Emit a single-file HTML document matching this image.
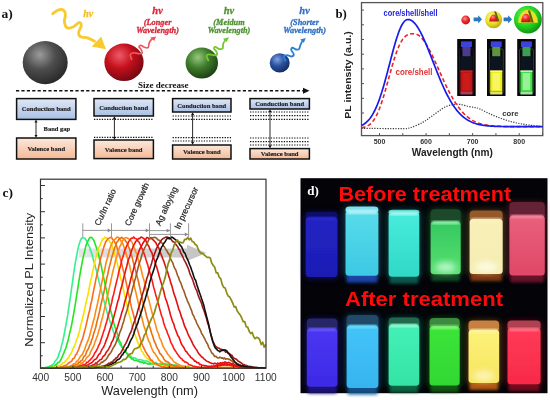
<!DOCTYPE html>
<html><head><meta charset="utf-8"><style>
html,body{margin:0;padding:0;background:#fff;}
body{width:550px;height:400px;overflow:hidden;}
svg{display:block;filter:blur(0.35px);}
</style></head><body>
<svg width="550" height="400" viewBox="0 0 550 400">
<rect width="550" height="400" fill="#fff"/>
<text x="1.5" y="17.5" style="font-family:'Liberation Serif',serif;font-weight:bold;font-size:13.5px" fill="#111">a)</text>
<radialGradient id="sg1" cx="0.38" cy="0.32" r="0.75" fx="0.38" fy="0.32"><stop offset="0" stop-color="#9c9c9c"/><stop offset="0.45" stop-color="#4e4e4e"/><stop offset="1" stop-color="#242424"/></radialGradient>
<ellipse cx="45.2" cy="62.6" rx="22.5" ry="21.6" fill="url(#sg1)"/>
<radialGradient id="sg2" cx="0.38" cy="0.32" r="0.75" fx="0.38" fy="0.32"><stop offset="0" stop-color="#ee5a68"/><stop offset="0.45" stop-color="#c4101c"/><stop offset="1" stop-color="#680810"/></radialGradient>
<ellipse cx="124" cy="62.3" rx="19.6" ry="18.82" fill="url(#sg2)"/>
<radialGradient id="sg3" cx="0.38" cy="0.32" r="0.75" fx="0.38" fy="0.32"><stop offset="0" stop-color="#96c87c"/><stop offset="0.45" stop-color="#3f7d2c"/><stop offset="1" stop-color="#173810"/></radialGradient>
<ellipse cx="201.8" cy="63" rx="16.2" ry="15.55" fill="url(#sg3)"/>
<radialGradient id="sg4" cx="0.38" cy="0.32" r="0.75" fx="0.38" fy="0.32"><stop offset="0" stop-color="#7ea4e0"/><stop offset="0.45" stop-color="#2a52a0"/><stop offset="1" stop-color="#10285a"/></radialGradient>
<ellipse cx="279.7" cy="62.9" rx="10" ry="9.6" fill="url(#sg4)"/>
<path d="M52.6,13.8 C53.62,13.13 56.8,10.33 58.7,9.8 C60.6,9.27 62.88,9.68 64,10.6 C65.12,11.52 65.33,13.48 65.4,15.3 C65.47,17.12 64.13,19.42 64.4,21.5 C64.67,23.58 65.48,26.92 67,27.8 C68.52,28.68 71.47,27.72 73.5,26.8 C75.53,25.88 77.9,22.5 79.2,22.3 C80.5,22.1 81.4,23.9 81.3,25.6 C81.2,27.3 78.73,30.63 78.6,32.5 C78.47,34.37 79,35.92 80.5,36.8 C82,37.68 85.27,37.07 87.6,37.8 C89.93,38.53 93.35,40.63 94.5,41.2" fill="none" stroke="#f7ca2e" stroke-width="2.8" stroke-linecap="round"/>
<polygon points="91.8,46.6 101.2,36.6 106,49.2" fill="#f7ca2e"/>
<text x="83.3" y="17" style="font-family:'Liberation Serif',serif;font-weight:bold;font-style:italic;font-size:10px" fill="#f4c020" stroke="#f4c020" stroke-width="0.3">hv</text>
<path d="M131.6,59.3 C131.38,58.57 129.97,55.99 130.25,54.9 C130.53,53.81 131.99,52.97 133.3,52.75 C134.61,52.53 136.63,53.52 138.1,53.6 C139.57,53.68 141.66,54 142.1,53.2 C142.54,52.4 141.27,49.82 140.75,48.8 C140.23,47.78 139,47.68 139,47.1 C139,46.52 139.73,45.23 140.75,45.3 C141.77,45.37 143.86,47.13 145.1,47.5 C146.34,47.87 147.53,48.23 148.2,47.5 C148.87,46.77 148.59,44.42 149.1,43.1 C149.61,41.78 150.57,40.42 151.25,39.6 C151.93,38.78 152.88,38.43 153.2,38.2" fill="none" stroke="#f05a5e" stroke-width="1.7" stroke-linecap="round"/>
<polygon points="150.2,37.6 156.2,36.4 154.2,40.9" fill="#f05a5e"/>
<path d="M208.3,60.4 C208.02,59.68 206.53,57.12 206.6,56.1 C206.67,55.08 207.67,54.45 208.75,54.3 C209.83,54.15 211.71,55.12 213.1,55.2 C214.49,55.28 216.58,55.41 217.1,54.75 C217.62,54.09 216.72,52.27 216.2,51.25 C215.68,50.23 214.15,49.33 214,48.6 C213.85,47.88 214.35,46.82 215.3,46.9 C216.25,46.98 218.46,48.88 219.7,49.1 C220.94,49.32 222.17,49.08 222.75,48.2 C223.33,47.32 222.82,45.04 223.2,43.8 C223.57,42.56 224.47,41.48 225,40.75 C225.53,40.02 226.17,39.62 226.4,39.4" fill="none" stroke="#74c830" stroke-width="1.8" stroke-linecap="round"/>
<polygon points="223,38.8 229.1,37.2 226.6,41.9" fill="#74c830"/>
<path d="M285.5,60.9 C285.21,60.17 283.46,57.45 283.75,56.5 C284.04,55.55 285.94,55.2 287.25,55.2 C288.56,55.2 290.51,56.65 291.6,56.5 C292.69,56.35 293.87,55.4 293.8,54.3 C293.73,53.2 291.42,50.99 291.2,49.9 C290.98,48.81 291.7,47.82 292.5,47.75 C293.3,47.68 294.92,49.27 296,49.5 C297.08,49.73 298.27,49.83 299,49.1 C299.73,48.37 299.88,46.35 300.4,45.1 C300.92,43.85 301.6,42.42 302.1,41.6 C302.6,40.78 303.18,40.43 303.4,40.2" fill="none" stroke="#2c80d4" stroke-width="1.8" stroke-linecap="round"/>
<polygon points="300.2,39.6 305.8,38.1 303.8,42.8" fill="#2c80d4"/>
<g style="font-family:'Liberation Serif',serif;font-weight:bold;font-style:italic" fill="#d8283a" stroke="#d8283a" stroke-width="0.3" text-anchor="middle"><text x="157.6" y="14" style="font-size:10.5px">hv</text><text x="157.6" y="24.6" style="font-size:8.3px">(Longer</text><text x="157.6" y="32.6" style="font-size:8.3px">Wavelength)</text></g>
<g style="font-family:'Liberation Serif',serif;font-weight:bold;font-style:italic" fill="#4f9232" stroke="#4f9232" stroke-width="0.3" text-anchor="middle"><text x="229" y="14" style="font-size:10.5px">hv</text><text x="229" y="24.6" style="font-size:8.3px">(Meidum</text><text x="229" y="32.6" style="font-size:8.3px">Wavelength)</text></g>
<g style="font-family:'Liberation Serif',serif;font-weight:bold;font-style:italic" fill="#3370c4" stroke="#3370c4" stroke-width="0.3" text-anchor="middle"><text x="304.6" y="14" style="font-size:10.5px">hv</text><text x="304.6" y="24.6" style="font-size:8.3px">(Shorter</text><text x="304.6" y="32.6" style="font-size:8.3px">Wavelength)</text></g>
<line x1="16" y1="90.8" x2="304" y2="90.8" stroke="#111" stroke-width="1.6" stroke-dasharray="3.2,2.2"/>
<polygon points="303,87.8 309.5,90.8 303,93.8" fill="#111"/>
<text x="138" y="88" style="font-family:'Liberation Serif',serif;font-weight:bold;font-size:9px" fill="#111">Size decrease</text>
<linearGradient id="cb" x1="0" y1="0" x2="0" y2="1"><stop offset="0" stop-color="#dfe8f6"/><stop offset="1" stop-color="#a9c0e4"/></linearGradient>
<linearGradient id="vb" x1="0" y1="0" x2="0" y2="1"><stop offset="0" stop-color="#fce8dc"/><stop offset="1" stop-color="#f4b996"/></linearGradient>
<rect x="16.6" y="98.6" width="59.3" height="20.8" fill="url(#cb)" stroke="#111" stroke-width="1.5"/>
<text x="46.25" y="111.3" text-anchor="middle" style="font-family:'Liberation Serif',serif;font-weight:bold;font-size:6.6px" fill="#222" stroke="#222" stroke-width="0.15">Conduction band</text>
<rect x="16.6" y="138" width="59.3" height="21" fill="url(#vb)" stroke="#111" stroke-width="1.5"/>
<text x="46.25" y="150.8" text-anchor="middle" style="font-family:'Liberation Serif',serif;font-weight:bold;font-size:6.6px" fill="#222" stroke="#222" stroke-width="0.15">Valence band</text>
<line x1="36" y1="121.6" x2="36" y2="135.8" stroke="#111" stroke-width="0.9"/>
<polygon points="34.5,122.4 36,119.6 37.5,122.4" fill="#111"/>
<polygon points="34.5,135 36,137.8 37.5,135" fill="#111"/>
<text x="43.6" y="131" style="font-family:'Liberation Serif',serif;font-weight:bold;font-size:6.5px" fill="#222" stroke="#222" stroke-width="0.15">Band gap</text>
<rect x="94" y="98.6" width="59.4" height="17.4" fill="url(#cb)" stroke="#111" stroke-width="1.5"/>
<text x="123.7" y="109.6" text-anchor="middle" style="font-family:'Liberation Serif',serif;font-weight:bold;font-size:6.6px" fill="#222" stroke="#222" stroke-width="0.15">Conduction band</text>
<line x1="94" y1="119.4" x2="153.4" y2="119.4" stroke="#111" stroke-width="1.1" stroke-dasharray="1.3,1.3"/>
<line x1="94" y1="137.4" x2="153.4" y2="137.4" stroke="#111" stroke-width="1.1" stroke-dasharray="1.3,1.3"/>
<rect x="94" y="140" width="59.4" height="18.6" fill="url(#vb)" stroke="#111" stroke-width="1.5"/>
<text x="123.7" y="151.6" text-anchor="middle" style="font-family:'Liberation Serif',serif;font-weight:bold;font-size:6.6px" fill="#222" stroke="#222" stroke-width="0.15">Valence band</text>
<line x1="114.4" y1="118.2" x2="114.4" y2="137.8" stroke="#111" stroke-width="0.9"/>
<polygon points="112.9,119 114.4,116.2 115.9,119" fill="#111"/>
<polygon points="112.9,137 114.4,139.8 115.9,137" fill="#111"/>
<rect x="172.6" y="98.6" width="58.4" height="13.4" fill="url(#cb)" stroke="#111" stroke-width="1.5"/>
<text x="201.8" y="107.6" text-anchor="middle" style="font-family:'Liberation Serif',serif;font-weight:bold;font-size:6.6px" fill="#222" stroke="#222" stroke-width="0.15">Conduction band</text>
<line x1="172.6" y1="116" x2="231" y2="116" stroke="#111" stroke-width="1.1" stroke-dasharray="1.3,1.3"/>
<line x1="172.6" y1="119.4" x2="231" y2="119.4" stroke="#111" stroke-width="1.1" stroke-dasharray="1.3,1.3"/>
<line x1="172.6" y1="137.6" x2="231" y2="137.6" stroke="#111" stroke-width="1.1" stroke-dasharray="1.3,1.3"/>
<line x1="172.6" y1="141" x2="231" y2="141" stroke="#111" stroke-width="1.1" stroke-dasharray="1.3,1.3"/>
<rect x="172.6" y="145" width="58.4" height="14" fill="url(#vb)" stroke="#111" stroke-width="1.5"/>
<text x="201.8" y="154.3" text-anchor="middle" style="font-family:'Liberation Serif',serif;font-weight:bold;font-size:6.6px" fill="#222" stroke="#222" stroke-width="0.15">Valence band</text>
<line x1="192.6" y1="114.2" x2="192.6" y2="142.8" stroke="#111" stroke-width="0.9"/>
<polygon points="191.1,115 192.6,112.2 194.1,115" fill="#111"/>
<polygon points="191.1,142 192.6,144.8 194.1,142" fill="#111"/>
<rect x="250" y="98.6" width="59.4" height="10.4" fill="url(#cb)" stroke="#111" stroke-width="1.5"/>
<text x="279.7" y="106.1" text-anchor="middle" style="font-family:'Liberation Serif',serif;font-weight:bold;font-size:6.6px" fill="#222" stroke="#222" stroke-width="0.15">Conduction band</text>
<line x1="250" y1="112" x2="309.4" y2="112" stroke="#111" stroke-width="1.1" stroke-dasharray="1.3,1.3"/>
<line x1="250" y1="115.6" x2="309.4" y2="115.6" stroke="#111" stroke-width="1.1" stroke-dasharray="1.3,1.3"/>
<line x1="250" y1="119.4" x2="309.4" y2="119.4" stroke="#111" stroke-width="1.1" stroke-dasharray="1.3,1.3"/>
<line x1="250" y1="138" x2="309.4" y2="138" stroke="#111" stroke-width="1.1" stroke-dasharray="1.3,1.3"/>
<line x1="250" y1="141.6" x2="309.4" y2="141.6" stroke="#111" stroke-width="1.1" stroke-dasharray="1.3,1.3"/>
<line x1="250" y1="145" x2="309.4" y2="145" stroke="#111" stroke-width="1.1" stroke-dasharray="1.3,1.3"/>
<rect x="250" y="148.6" width="59.4" height="10.4" fill="url(#vb)" stroke="#111" stroke-width="1.5"/>
<text x="279.7" y="156.1" text-anchor="middle" style="font-family:'Liberation Serif',serif;font-weight:bold;font-size:6.6px" fill="#222" stroke="#222" stroke-width="0.15">Valence band</text>
<line x1="270" y1="111.2" x2="270" y2="146.4" stroke="#111" stroke-width="0.9"/>
<polygon points="268.5,112 270,109.2 271.5,112" fill="#111"/>
<polygon points="268.5,145.6 270,148.4 271.5,145.6" fill="#111"/>
<text x="335.5" y="18" style="font-family:'Liberation Serif',serif;font-weight:bold;font-size:12.8px" fill="#111">b)</text>
<rect x="361.5" y="2.6" width="181.3" height="133" fill="none" stroke="#555" stroke-width="1.3"/>
<line x1="361.5" y1="10.1" x2="364.0" y2="10.1" stroke="#555" stroke-width="1"/>
<line x1="361.5" y1="24.8" x2="364.0" y2="24.8" stroke="#555" stroke-width="1"/>
<line x1="361.5" y1="39.5" x2="364.0" y2="39.5" stroke="#555" stroke-width="1"/>
<line x1="361.5" y1="54.2" x2="364.0" y2="54.2" stroke="#555" stroke-width="1"/>
<line x1="361.5" y1="68.9" x2="364.0" y2="68.9" stroke="#555" stroke-width="1"/>
<line x1="361.5" y1="83.6" x2="364.0" y2="83.6" stroke="#555" stroke-width="1"/>
<line x1="361.5" y1="98.3" x2="364.0" y2="98.3" stroke="#555" stroke-width="1"/>
<line x1="361.5" y1="113" x2="364.0" y2="113" stroke="#555" stroke-width="1"/>
<line x1="361.5" y1="127.7" x2="364.0" y2="127.7" stroke="#555" stroke-width="1"/>
<line x1="379.5" y1="135.6" x2="379.5" y2="133.1" stroke="#555" stroke-width="1"/>
<line x1="402.79" y1="135.6" x2="402.79" y2="133.1" stroke="#555" stroke-width="1"/>
<line x1="426.07" y1="135.6" x2="426.07" y2="133.1" stroke="#555" stroke-width="1"/>
<line x1="449.36" y1="135.6" x2="449.36" y2="133.1" stroke="#555" stroke-width="1"/>
<line x1="472.64" y1="135.6" x2="472.64" y2="133.1" stroke="#555" stroke-width="1"/>
<line x1="495.93" y1="135.6" x2="495.93" y2="133.1" stroke="#555" stroke-width="1"/>
<line x1="519.21" y1="135.6" x2="519.21" y2="133.1" stroke="#555" stroke-width="1"/>
<line x1="542.5" y1="135.6" x2="542.5" y2="133.1" stroke="#555" stroke-width="1"/>
<text x="379.5" y="144.2" text-anchor="middle" style="font-family:'Liberation Sans',sans-serif;font-weight:bold;font-size:7px" fill="#333">500</text>
<text x="426.07" y="144.2" text-anchor="middle" style="font-family:'Liberation Sans',sans-serif;font-weight:bold;font-size:7px" fill="#333">600</text>
<text x="472.64" y="144.2" text-anchor="middle" style="font-family:'Liberation Sans',sans-serif;font-weight:bold;font-size:7px" fill="#333">700</text>
<text x="519.21" y="144.2" text-anchor="middle" style="font-family:'Liberation Sans',sans-serif;font-weight:bold;font-size:7px" fill="#333">800</text>
<text x="411.8" y="155.8" textLength="81" lengthAdjust="spacingAndGlyphs" style="font-family:'Liberation Sans',sans-serif;font-weight:bold;font-size:10.5px" fill="#222">Wavelength  (nm)</text>
<text transform="translate(350.8,75) rotate(-90)" text-anchor="middle" textLength="87.5" lengthAdjust="spacingAndGlyphs" style="font-family:'Liberation Sans',sans-serif;font-weight:bold;font-size:9.3px" fill="#222">PL intensity  (a.u.)</text>
<path d="M361.5,128.3 C367.92,128.35 391.92,128.68 400,128.6 C408.08,128.52 406.25,128.82 410,127.8 C413.75,126.78 419.17,124.22 422.5,122.5 C425.83,120.78 427.42,119.28 430,117.5 C432.58,115.72 435.33,113.62 438,111.8 C440.67,109.98 443.33,107.83 446,106.6 C448.67,105.37 451.67,104.77 454,104.4 C456.33,104.03 457.67,104.08 460,104.4 C462.33,104.72 465.5,105.77 468,106.3 C470.5,106.83 473,107.15 475,107.6 C477,108.05 477.58,107.98 480,109 C482.42,110.02 486.17,112.2 489.5,113.7 C492.83,115.2 496.58,116.73 500,118 C503.42,119.27 506.67,120.37 510,121.3 C513.33,122.23 516.67,122.95 520,123.6 C523.33,124.25 526.2,124.68 530,125.2 C533.8,125.72 540.67,126.45 542.8,126.7" fill="none" stroke="#333" stroke-width="1.2" stroke-dasharray="1.2,1.4"/>
<path d="M361.5,127.74 L362.5,127.58 L363.5,127.37 L364.5,127.11 L365.5,126.79 L366.5,126.4 L367.5,125.91 L368.5,125.33 L369.5,124.64 L370.5,123.81 L371.5,122.84 L372.5,121.71 L373.5,120.41 L374.5,118.93 L375.5,117.25 L376.5,115.38 L377.5,113.3 L378.5,111.01 L379.5,108.52 L380.5,105.83 L381.5,102.95 L382.5,99.89 L383.5,96.68 L384.5,93.32 L385.5,89.85 L386.5,86.3 L387.5,82.68 L388.5,79.03 L389.5,75.38 L390.5,71.77 L391.5,68.21 L392.5,64.75 L393.5,61.4 L394.5,58.2 L395.5,55.16 L396.5,52.3 L397.5,49.65 L398.5,47.2 L399.5,44.98 L400.5,42.97 L401.5,41.19 L402.5,39.64 L403.5,38.29 L404.5,37.16 L405.5,36.22 L406.5,35.46 L407.5,34.86 L408.5,34.42 L409.5,34.1 L410.5,33.89 L411.5,33.77 L412.5,33.72 L413.5,33.7 L414.5,33.72 L415.5,33.87 L416.5,34.17 L417.5,34.62 L418.5,35.21 L419.5,35.95 L420.5,36.82 L421.5,37.83 L422.5,38.97 L423.5,40.23 L424.5,41.61 L425.5,43.1 L426.5,44.7 L427.5,46.39 L428.5,48.17 L429.5,50.03 L430.5,51.97 L431.5,53.97 L432.5,56.03 L433.5,58.14 L434.5,60.29 L435.5,62.47 L436.5,64.68 L437.5,66.91 L438.5,69.14 L439.5,71.38 L440.5,73.61 L441.5,75.83 L442.5,78.03 L443.5,80.21 L444.5,82.36 L445.5,84.48 L446.5,86.55 L447.5,88.59 L448.5,90.57 L449.5,92.51 L450.5,94.39 L451.5,96.21 L452.5,97.98 L453.5,99.68 L454.5,101.32 L455.5,102.9 L456.5,104.41 L457.5,105.86 L458.5,107.25 L459.5,108.57 L460.5,109.82 L461.5,111.01 L462.5,112.14 L463.5,113.21 L464.5,114.22 L465.5,115.17 L466.5,116.06 L467.5,116.9 L468.5,117.68 L469.5,118.42 L470.5,119.1 L471.5,119.74 L472.5,120.33 L473.5,120.88 L474.5,121.39 L475.5,121.87 L476.5,122.3 L477.5,122.7 L478.5,123.07 L479.5,123.41 L480.5,123.72 L481.5,124.01 L482.5,124.27 L483.5,124.51 L484.5,124.72 L485.5,124.92 L486.5,125.1 L487.5,125.26 L488.5,125.41 L489.5,125.54 L490.5,125.66 L491.5,125.77 L492.5,125.87 L493.5,125.95 L494.5,126.03 L495.5,126.1 L496.5,126.17 L497.5,126.22 L498.5,126.27 L499.5,126.32 L500.5,126.36 L501.5,126.39 L502.5,126.42 L503.5,126.45 L504.5,126.48 L505.5,126.5 L506.5,126.52 L507.5,126.54 L508.5,126.55 L509.5,126.57 L510.5,126.58 L511.5,126.59 L512.5,126.6 L513.5,126.6 L514.5,126.61 L515.5,126.62 L516.5,126.62 L517.5,126.63 L518.5,126.63 L519.5,126.63 L520.5,126.64 L521.5,126.64 L522.5,126.64 L523.5,126.64 L524.5,126.64 L525.5,126.64 L526.5,126.64 L527.5,126.64 L528.5,126.64 L529.5,126.64 L530.5,126.64 L531.5,126.64 L532.5,126.64 L533.5,126.64 L534.5,126.63 L535.5,126.63 L536.5,126.63 L537.5,126.63 L538.5,126.63 L539.5,126.62 L540.5,126.62 L541.5,126.62 L542.5,126.61" fill="none" stroke="#ee2222" stroke-width="1.6" stroke-dasharray="4,2.5"/>
<path d="M361.5,125.46 L362.5,124.96 L363.5,124.4 L364.5,123.75 L365.5,123.01 L366.5,122.18 L367.5,121.24 L368.5,120.18 L369.5,119.01 L370.5,117.7 L371.5,116.25 L372.5,114.66 L373.5,112.91 L374.5,111.01 L375.5,108.93 L376.5,106.7 L377.5,104.29 L378.5,101.71 L379.5,98.97 L380.5,96.06 L381.5,92.99 L382.5,89.77 L383.5,86.41 L384.5,82.93 L385.5,79.33 L386.5,75.64 L387.5,71.88 L388.5,68.06 L389.5,64.22 L390.5,60.37 L391.5,56.55 L392.5,52.78 L393.5,49.09 L394.5,45.51 L395.5,42.06 L396.5,38.78 L397.5,35.69 L398.5,32.82 L399.5,30.19 L400.5,27.81 L401.5,25.72 L402.5,23.92 L403.5,22.42 L404.5,21.23 L405.5,20.36 L406.5,19.79 L407.5,19.53 L408.5,19.52 L409.5,19.69 L410.5,20.04 L411.5,20.56 L412.5,21.24 L413.5,22.09 L414.5,23.09 L415.5,24.26 L416.5,25.57 L417.5,27.02 L418.5,28.61 L419.5,30.33 L420.5,32.16 L421.5,34.11 L422.5,36.17 L423.5,38.31 L424.5,40.54 L425.5,42.85 L426.5,45.22 L427.5,47.65 L428.5,50.12 L429.5,52.64 L430.5,55.18 L431.5,57.74 L432.5,60.32 L433.5,62.89 L434.5,65.46 L435.5,68.02 L436.5,70.56 L437.5,73.07 L438.5,75.55 L439.5,77.99 L440.5,80.38 L441.5,82.72 L442.5,85.01 L443.5,87.24 L444.5,89.41 L445.5,91.51 L446.5,93.54 L447.5,95.5 L448.5,97.4 L449.5,99.21 L450.5,100.96 L451.5,102.63 L452.5,104.22 L453.5,105.74 L454.5,107.19 L455.5,108.57 L456.5,109.87 L457.5,111.1 L458.5,112.26 L459.5,113.36 L460.5,114.39 L461.5,115.35 L462.5,116.26 L463.5,117.1 L464.5,117.89 L465.5,118.63 L466.5,119.31 L467.5,119.95 L468.5,120.54 L469.5,121.08 L470.5,121.59 L471.5,122.05 L472.5,122.48 L473.5,122.87 L474.5,123.23 L475.5,123.56 L476.5,123.86 L477.5,124.13 L478.5,124.38 L479.5,124.61 L480.5,124.82 L481.5,125.01 L482.5,125.18 L483.5,125.33 L484.5,125.47 L485.5,125.6 L486.5,125.71 L487.5,125.81 L488.5,125.9 L489.5,125.99 L490.5,126.06 L491.5,126.13 L492.5,126.19 L493.5,126.24 L494.5,126.29 L495.5,126.33 L496.5,126.37 L497.5,126.4 L498.5,126.43 L499.5,126.46 L500.5,126.48 L501.5,126.5 L502.5,126.52 L503.5,126.54 L504.5,126.55 L505.5,126.56 L506.5,126.58 L507.5,126.59 L508.5,126.6 L509.5,126.6 L510.5,126.61 L511.5,126.62 L512.5,126.62 L513.5,126.63 L514.5,126.63 L515.5,126.63 L516.5,126.64 L517.5,126.64 L518.5,126.64 L519.5,126.64 L520.5,126.65 L521.5,126.65 L522.5,126.65 L523.5,126.65 L524.5,126.65 L525.5,126.65 L526.5,126.65 L527.5,126.65 L528.5,126.65 L529.5,126.64 L530.5,126.64 L531.5,126.64 L532.5,126.64 L533.5,126.64 L534.5,126.64 L535.5,126.63 L536.5,126.63 L537.5,126.63 L538.5,126.63 L539.5,126.62 L540.5,126.62 L541.5,126.62 L542.5,126.62" fill="none" stroke="#1a1aee" stroke-width="1.7"/>
<text x="383.5" y="16" textLength="54" lengthAdjust="spacingAndGlyphs" style="font-family:'Liberation Sans',sans-serif;font-weight:bold;font-size:8.2px" fill="#2424dd">core/shell/shell</text>
<text x="395.5" y="75.4" textLength="37" lengthAdjust="spacingAndGlyphs" style="font-family:'Liberation Sans',sans-serif;font-weight:bold;font-size:8.2px" fill="#e83030">core/shell</text>
<text x="502.3" y="116.4" style="font-family:'Liberation Sans',sans-serif;font-weight:bold;font-size:7.7px" fill="#333">core</text>
<radialGradient id="rs" cx="0.4" cy="0.35" r="0.7"><stop offset="0" stop-color="#ff9090"/><stop offset="0.5" stop-color="#ee2828"/><stop offset="1" stop-color="#b01010"/></radialGradient>
<ellipse cx="465.7" cy="20" rx="4.4" ry="4.4" fill="url(#rs)"/>
<polygon points="473.6,17.4 478.2,17.4 478.2,15.2 482,19.3 478.2,23.4 478.2,21.2 473.6,21.2" fill="#2a78b8"/>
<polygon points="503.6,17.4 508.2,17.4 508.2,15.2 512,19.3 508.2,23.4 508.2,21.2 503.6,21.2" fill="#2a78b8"/>
<radialGradient id="ys" cx="0.4" cy="0.35" r="0.7"><stop offset="0" stop-color="#ffff80"/><stop offset="0.6" stop-color="#e8dc20"/><stop offset="1" stop-color="#b0a010"/></radialGradient>
<circle cx="493.6" cy="19.6" r="8.6" fill="url(#ys)"/>
<path d="M487.2,21.5 A6.6,8.5 0 0 1 499.6,21.5 Z" fill="#f4ec50"/>
<path d="M489.4,21.6 A4.2,7.2 0 0 1 497.8,21.6 Z" fill="url(#rs)"/>
<path d="M494.2,11.6 L496,11.4 L499.6,21.6 L497.6,21.6 Z" fill="#5e6010"/>
<radialGradient id="gs" cx="0.4" cy="0.35" r="0.7"><stop offset="0" stop-color="#70ff60"/><stop offset="0.55" stop-color="#22d422"/><stop offset="1" stop-color="#0e8a0e"/></radialGradient>
<circle cx="527.9" cy="19.7" r="13.9" fill="url(#gs)"/>
<path d="M518.2,22.8 A9.8,13 0 0 1 537.9,22.8 Z" fill="#ecde28"/>
<path d="M521.2,22.2 A4.8,8.4 0 0 1 530.8,22.2 Z" fill="url(#rs)"/>
<path d="M527.8,10.6 L530,10.6 L533.8,22.4 L531.4,22.4 Z" fill="#5e6010"/>
<rect x="457.2" y="39" width="18.5" height="57" fill="#06060c"/>
<rect x="459.5" y="49" width="13.9" height="44" rx="1" fill="none" stroke="#402020" stroke-width="1" opacity="0.6"/>
<rect x="461" y="41.4" width="10.9" height="5.6" fill="#3a44d8"/>
<rect x="462.4" y="47" width="8.1" height="9.5" fill="#4a3c8c"/>
<rect x="460.4" y="56.5" width="12.1" height="14.5" fill="#0c1420"/>
<rect x="460.4" y="70.8" width="12.1" height="20.5" fill="#c01414"/>
<rect x="462.7" y="73" width="7.5" height="17" fill="#d42222" opacity="0.55" filter="url(#blur05)"/>
<rect x="460.4" y="70.3" width="12.1" height="1.6" fill="#d42222" opacity="0.8"/>
<rect x="460.4" y="91.3" width="12.1" height="3.2" fill="#a84058"/>
<rect x="487" y="39" width="18.5" height="57" fill="#06060c"/>
<rect x="489.3" y="49" width="13.9" height="44" rx="1" fill="none" stroke="#5a7a20" stroke-width="1" opacity="0.6"/>
<rect x="490.8" y="41.4" width="10.9" height="5.6" fill="#3a44d8"/>
<rect x="492.2" y="47" width="8.1" height="9.5" fill="#5c9440"/>
<rect x="490.2" y="56.5" width="12.1" height="14.5" fill="#0c1420"/>
<rect x="490.2" y="70.8" width="12.1" height="20.5" fill="#ecec1c"/>
<rect x="492.5" y="73" width="7.5" height="17" fill="#ffffa0" opacity="0.55" filter="url(#blur05)"/>
<rect x="490.2" y="70.3" width="12.1" height="1.6" fill="#ffffa0" opacity="0.8"/>
<rect x="490.2" y="91.3" width="12.1" height="3.2" fill="#e0e070"/>
<rect x="517.2" y="39" width="18.5" height="57" fill="#06060c"/>
<rect x="519.5" y="49" width="13.9" height="44" rx="1" fill="none" stroke="#208030" stroke-width="1" opacity="0.6"/>
<rect x="521" y="41.4" width="10.9" height="5.6" fill="#3a44d8"/>
<rect x="522.4" y="47" width="8.1" height="9.5" fill="#3c9c50"/>
<rect x="520.4" y="56.5" width="12.1" height="14.5" fill="#0c1420"/>
<rect x="520.4" y="70.8" width="12.1" height="20.5" fill="#40e040"/>
<rect x="522.7" y="73" width="7.5" height="17" fill="#e0ffe0" opacity="0.55" filter="url(#blur05)"/>
<rect x="520.4" y="70.3" width="12.1" height="1.6" fill="#e0ffe0" opacity="0.8"/>
<rect x="520.4" y="91.3" width="12.1" height="3.2" fill="#a0e0a0"/>
<text x="2.5" y="196.5" style="font-family:'Liberation Serif',serif;font-weight:bold;font-size:13.5px" fill="#111">c)</text>
<linearGradient id="garr" x1="0" y1="0" x2="1" y2="0"><stop offset="0" stop-color="#e6e6e6"/><stop offset="1" stop-color="#c2c2c2"/></linearGradient>
<polygon points="79,248.6 187,248.6 187,244.8 206.3,253 187,261 187,257.4 79,257.4" fill="url(#garr)"/>
<path d="M40.7,368 L41.7,367.89 L42.7,368.02 L43.7,367.7 L44.7,367.77 L45.7,367.55 L46.7,367.23 L47.7,367.15 L48.7,366.64 L49.7,366.38 L50.7,365.72 L51.7,365.08 L52.7,364.41 L53.7,363.92 L54.7,361.74 L55.7,360.45 L56.7,359.31 L57.7,357.75 L58.7,354.87 L59.7,351.89 L60.7,349.58 L61.7,344.72 L62.7,341.86 L63.7,336.6 L64.7,331.49 L65.7,326.1 L66.7,320.6 L67.7,315.16 L68.7,307.79 L69.7,301.62 L70.7,294.78 L71.7,287.41 L72.7,280.67 L73.7,273.16 L74.7,266.57 L75.7,260.58 L76.7,255.56 L77.7,250.15 L78.7,245.66 L79.7,242.54 L80.7,239.77 L81.7,237.94 L82.7,238.02 L83.7,238.06 L84.7,238.05 L85.7,239.58 L86.7,241 L87.7,243.37 L88.7,245.41 L89.7,247.37 L90.7,251.21 L91.7,253.15 L92.7,256.93 L93.7,260.96 L94.7,263.82 L95.7,268.11 L96.7,271.4 L97.7,276.25 L98.7,280.39 L99.7,284.13 L100.7,288.56 L101.7,291.73 L102.7,296.18 L103.7,299.88 L104.7,303.61 L105.7,307.1 L106.7,311.19 L107.7,314.78 L108.7,317.43 L109.7,320.87 L110.7,323.06 L111.7,326.85 L112.7,329.51 L113.7,332.59 L114.7,334.79 L115.7,336.34 L116.7,338.62 L117.7,341.02 L118.7,341.97 L119.7,344.31 L120.7,345.49 L121.7,346.88 L122.7,348.15 L123.7,350.37 L124.7,350.61 L125.7,351.8 L126.7,352.94 L127.7,354.47 L128.7,354.14 L129.7,355.37 L130.7,356.15 L131.7,357.2 L132.7,357.65 L133.7,358.2 L134.7,357.82 L135.7,358.42 L136.7,358.72 L137.7,359.8 L138.7,360.22 L139.7,359.39 L140.7,359.7 L141.7,360.03 L142.7,360.28 L143.7,360.85 L144.7,361.21 L145.7,360.96 L146.7,360.79 L147.7,361.56 L148.7,361.66 L149.7,362.11 L150.7,362.81 L151.7,362.6 L152.7,362.51 L153.7,362.8 L154.7,363.02 L155.7,362.29 L156.7,363.6 L157.7,363.56 L158.7,363.82 L159.7,363.84 L160.7,363.39 L161.7,363.51 L162.7,363.21 L163.7,364.07 L164.7,363.37 L165.7,363.48 L166.7,363.78 L167.7,364.16 L168.7,364.32 L169.7,364.3 L170.7,364.37 L171.7,364.52 L172.7,364.59 L173.7,364.78 L174.7,364.73 L175.7,365.15 L176.7,365.12 L177.7,365.01 L178.7,365.13 L179.7,365.24" fill="none" stroke="#33f090" stroke-width="1.6" stroke-linejoin="round"/>
<path d="M40.7,368.08 L41.7,367.96 L42.7,368.2 L43.7,368.2 L44.7,367.97 L45.7,367.91 L46.7,367.66 L47.7,367.55 L48.7,367.51 L49.7,367.29 L50.7,367.29 L51.7,366.74 L52.7,366.34 L53.7,366.29 L54.7,365.6 L55.7,364.82 L56.7,364.26 L57.7,362.64 L58.7,362.27 L59.7,361.65 L60.7,360.02 L61.7,358.08 L62.7,355.52 L63.7,353.42 L64.7,350.6 L65.7,348.59 L66.7,345.06 L67.7,341.86 L68.7,337.34 L69.7,332.94 L70.7,329.16 L71.7,324.47 L72.7,319.03 L73.7,313.44 L74.7,307.68 L75.7,301.6 L76.7,294.78 L77.7,289.01 L78.7,282.61 L79.7,276.05 L80.7,270.12 L81.7,264.78 L82.7,259.39 L83.7,255.06 L84.7,250.98 L85.7,246.39 L86.7,243.84 L87.7,241.37 L88.7,239.52 L89.7,237.67 L90.7,237.22 L91.7,237.63 L92.7,238.57 L93.7,240.11 L94.7,242.75 L95.7,245.69 L96.7,248.6 L97.7,251.49 L98.7,255.48 L99.7,259.73 L100.7,263.03 L101.7,268.32 L102.7,273.31 L103.7,277.87 L104.7,282.62 L105.7,287.04 L106.7,291.41 L107.7,296.99 L108.7,300.98 L109.7,306.16 L110.7,310.78 L111.7,314.2 L112.7,318.25 L113.7,322.86 L114.7,326.21 L115.7,328.87 L116.7,332.04 L117.7,335.09 L118.7,338.94 L119.7,341.39 L120.7,342.84 L121.7,345.97 L122.7,348.16 L123.7,349.51 L124.7,350.7 L125.7,352.44 L126.7,353.17 L127.7,354.18 L128.7,356.56 L129.7,357.04 L130.7,357.69 L131.7,358.99 L132.7,358.93 L133.7,360.12 L134.7,360.56 L135.7,360.15 L136.7,360.6 L137.7,361.01 L138.7,361.25 L139.7,362.02 L140.7,361.82 L141.7,362.27 L142.7,362.08 L143.7,363.36 L144.7,362.76 L145.7,363.07 L146.7,363.4 L147.7,363.99 L148.7,363.45 L149.7,364.27 L150.7,363.81 L151.7,363.97 L152.7,364.07 L153.7,363.47 L154.7,364.17 L155.7,364.22 L156.7,364.25 L157.7,364.66 L158.7,364.5 L159.7,364.71 L160.7,364.9 L161.7,364.92 L162.7,364.91 L163.7,365.06 L164.7,365.16 L165.7,365.32 L166.7,365.13 L167.7,365.38 L168.7,365.33 L169.7,365.41 L170.7,365.67 L171.7,365.63 L172.7,365.72 L173.7,365.86 L174.7,365.98 L175.7,365.85 L176.7,365.97 L177.7,365.99 L178.7,366.05 L179.7,366.17 L180.7,366.13 L181.7,366.21 L182.7,366.24 L183.7,366.47 L184.7,366.42 L185.7,366.54 L186.7,366.61 L187.7,366.38 L188.7,366.54 L189.7,366.74" fill="none" stroke="#22e622" stroke-width="1.6" stroke-linejoin="round"/>
<path d="M40.7,368.2 L41.7,367.98 L42.7,367.96 L43.7,368.06 L44.7,367.88 L45.7,367.91 L46.7,367.8 L47.7,367.99 L48.7,367.96 L49.7,367.93 L50.7,367.54 L51.7,367.64 L52.7,367.48 L53.7,367.11 L54.7,367.21 L55.7,367.01 L56.7,366.44 L57.7,366.42 L58.7,365.82 L59.7,365.42 L60.7,365.12 L61.7,364.48 L62.7,363.21 L63.7,362.83 L64.7,362.08 L65.7,360.85 L66.7,359.55 L67.7,358.48 L68.7,357.65 L69.7,355.12 L70.7,354.15 L71.7,352.09 L72.7,349.42 L73.7,347.58 L74.7,345.5 L75.7,342.65 L76.7,339.12 L77.7,337.29 L78.7,333.68 L79.7,330.4 L80.7,325.44 L81.7,321.72 L82.7,317.28 L83.7,314.03 L84.7,308.88 L85.7,304.11 L86.7,299.85 L87.7,295.79 L88.7,290.87 L89.7,285.29 L90.7,280.36 L91.7,276.73 L92.7,271.64 L93.7,267.35 L94.7,262.21 L95.7,258.1 L96.7,255.18 L97.7,251.3 L98.7,247.63 L99.7,246.04 L100.7,243.2 L101.7,241.44 L102.7,238.88 L103.7,238.87 L104.7,237.15 L105.7,238.12 L106.7,237.84 L107.7,238.4 L108.7,239.84 L109.7,241.9 L110.7,242.9 L111.7,244.99 L112.7,248.18 L113.7,250.72 L114.7,253.78 L115.7,257.34 L116.7,260.91 L117.7,265.03 L118.7,269.25 L119.7,273.44 L120.7,278.38 L121.7,282.08 L122.7,286.77 L123.7,290.72 L124.7,295.33 L125.7,299.2 L126.7,303.79 L127.7,307.63 L128.7,312.69 L129.7,316.37 L130.7,319.66 L131.7,323.69 L132.7,327.81 L133.7,329.96 L134.7,334.09 L135.7,336.5 L136.7,339.36 L137.7,342.42 L138.7,344.22 L139.7,346.62 L140.7,348.94 L141.7,351.25 L142.7,352.1 L143.7,354.38 L144.7,355.66 L145.7,356.87 L146.7,357.74 L147.7,358.73 L148.7,359.28 L149.7,360.24 L150.7,360.93 L151.7,362.55 L152.7,362.47 L153.7,362.88 L154.7,363.24 L155.7,364.72 L156.7,364.75 L157.7,364.99 L158.7,365.12 L159.7,365.35 L160.7,365.58 L161.7,365.84 L162.7,365.88 L163.7,366.14 L164.7,366.2 L165.7,366.59 L166.7,366.69 L167.7,366.61 L168.7,366.56 L169.7,366.92 L170.7,366.72 L171.7,366.79 L172.7,366.7 L173.7,366.9 L174.7,366.98 L175.7,367.03 L176.7,366.95 L177.7,367.1 L178.7,366.93 L179.7,367.07 L180.7,367.03 L181.7,367.18 L182.7,367.06 L183.7,367.08 L184.7,367.22 L185.7,367.21 L186.7,367.37 L187.7,367.37 L188.7,367.48 L189.7,367.47 L190.7,367.51 L191.7,367.59 L192.7,367.42 L193.7,367.41 L194.7,367.69 L195.7,367.38 L196.7,367.62 L197.7,367.61 L198.7,367.38 L199.7,367.72 L200.7,367.76 L201.7,367.67 L202.7,367.73 L203.7,367.78 L204.7,367.53 L205.7,367.71 L206.7,367.73 L207.7,367.89 L208.7,367.9 L209.7,367.95 L210.7,367.88 L211.7,368.04 L212.7,367.99 L213.7,368.02 L214.7,367.86 L215.7,367.8 L216.7,367.85 L217.7,367.95 L218.7,367.86 L219.7,368.16 L220.7,368.05 L221.7,368.09 L222.7,368.09 L223.7,368.12 L224.7,368.05 L225.7,367.86 L226.7,368.18 L227.7,368.16 L228.7,368.07 L229.7,368.08 L230.7,368.14 L231.7,367.9 L232.7,368.17 L233.7,367.98 L234.7,367.91 L235.7,367.99 L236.7,368.18 L237.7,367.97 L238.7,368.19 L239.7,368.2 L240.7,368.1 L241.7,368.06 L242.7,368.1 L243.7,368.18 L244.7,368.2 L245.7,368.16 L246.7,368.17 L247.7,367.95 L248.7,367.98 L249.7,368.02 L250.7,368.2 L251.7,368.05 L252.7,368.15 L253.7,367.93 L254.7,367.95 L255.7,368.04 L256.7,368.2 L257.7,368.2 L258.7,368.2 L259.7,368.05 L260.7,368.15 L261.7,368.13 L262.7,368.13 L263.7,367.99 L264.7,368.2 L265.7,368.03" fill="none" stroke="#f8e000" stroke-width="1.6" stroke-linejoin="round"/>
<path d="M40.7,368.2 L41.7,368.2 L42.7,367.99 L43.7,368.16 L44.7,368.2 L45.7,368.2 L46.7,368.13 L47.7,368.04 L48.7,368 L49.7,368.2 L50.7,367.95 L51.7,368.06 L52.7,367.84 L53.7,367.94 L54.7,368.05 L55.7,367.64 L56.7,367.82 L57.7,367.58 L58.7,367.59 L59.7,367.35 L60.7,366.96 L61.7,366.99 L62.7,366.54 L63.7,366.03 L64.7,365.63 L65.7,365.37 L66.7,364.83 L67.7,363.96 L68.7,363.03 L69.7,362.51 L70.7,361.55 L71.7,361.23 L72.7,358.88 L73.7,358.59 L74.7,357.22 L75.7,354.55 L76.7,353.82 L77.7,351.48 L78.7,349.49 L79.7,346.17 L80.7,343.6 L81.7,340.72 L82.7,338.44 L83.7,334.5 L84.7,330.59 L85.7,326.88 L86.7,322.65 L87.7,318.12 L88.7,313.8 L89.7,310.27 L90.7,304.81 L91.7,300.91 L92.7,295.06 L93.7,290.14 L94.7,285.54 L95.7,280.17 L96.7,275.57 L97.7,271.65 L98.7,266.96 L99.7,262.48 L100.7,258.08 L101.7,254.62 L102.7,251.13 L103.7,247.41 L104.7,244.88 L105.7,241.6 L106.7,240.67 L107.7,238.87 L108.7,238.38 L109.7,237.83 L110.7,237.41 L111.7,237.58 L112.7,239.74 L113.7,239.96 L114.7,242.19 L115.7,244.13 L116.7,246.55 L117.7,249.98 L118.7,253.45 L119.7,255.86 L120.7,260.08 L121.7,263.48 L122.7,267.92 L123.7,271.92 L124.7,275.96 L125.7,280.4 L126.7,284.96 L127.7,290.46 L128.7,294.41 L129.7,298.5 L130.7,303.89 L131.7,308.35 L132.7,311.82 L133.7,315.49 L134.7,319.53 L135.7,323.2 L136.7,327.2 L137.7,330.31 L138.7,333.8 L139.7,336.92 L140.7,340.26 L141.7,343.42 L142.7,345.76 L143.7,347.63 L144.7,349.79 L145.7,351.93 L146.7,353.54 L147.7,355.15 L148.7,356.26 L149.7,357.92 L150.7,360.12 L151.7,360.04 L152.7,361.55 L153.7,362.6 L154.7,363.71 L155.7,363.49 L156.7,364.4 L157.7,364.92 L158.7,365.44 L159.7,365.86 L160.7,366.42 L161.7,366.68 L162.7,366.95 L163.7,366.83 L164.7,367.03 L165.7,367.46 L166.7,367.67 L167.7,367.62 L168.7,367.76 L169.7,367.61 L170.7,367.84 L171.7,368.11 L172.7,368.12 L173.7,368.17 L174.7,368.2 L175.7,367.99 L176.7,367.95 L177.7,367.99 L178.7,368.15 L179.7,368.2 L180.7,368.2 L181.7,368.2 L182.7,368.2 L183.7,368.2 L184.7,368.17 L185.7,368.2 L186.7,368.01 L187.7,368.2 L188.7,368.09 L189.7,368.2 L190.7,368.2 L191.7,368.12 L192.7,368.05 L193.7,368.1 L194.7,368.2 L195.7,368.2 L196.7,368.04 L197.7,368.03 L198.7,368.2 L199.7,368.2 L200.7,368.16 L201.7,368.09 L202.7,368.2 L203.7,368 L204.7,368.12 L205.7,368.18 L206.7,368.2 L207.7,368.2 L208.7,368.2 L209.7,368.19 L210.7,368.09 L211.7,368.1 L212.7,368.2 L213.7,368.2 L214.7,368.12 L215.7,368.01 L216.7,368.2 L217.7,368.2 L218.7,368.17 L219.7,368.1 L220.7,368.2 L221.7,368.2 L222.7,368.09 L223.7,368.01 L224.7,368.14 L225.7,368.17 L226.7,368.2 L227.7,368.08 L228.7,368.2 L229.7,368.2 L230.7,368.2 L231.7,368.08 L232.7,368.2 L233.7,368.12 L234.7,368.2 L235.7,368.09 L236.7,368.09 L237.7,368.2 L238.7,368.12 L239.7,368.2 L240.7,368.2 L241.7,368.07 L242.7,368.09 L243.7,368.17 L244.7,368.2 L245.7,368.2 L246.7,368.06 L247.7,368.16 L248.7,368.09 L249.7,368.2 L250.7,368.06 L251.7,368.02 L252.7,368.02 L253.7,368.16 L254.7,368.2 L255.7,368.2 L256.7,368.2 L257.7,368.2 L258.7,368.2 L259.7,368.13 L260.7,368.07 L261.7,368.2 L262.7,368.2 L263.7,368.01 L264.7,368.2 L265.7,368.15" fill="none" stroke="#ff6a1a" stroke-width="1.6" stroke-linejoin="round"/>
<path d="M40.7,368.15 L41.7,368.13 L42.7,368.06 L43.7,367.99 L44.7,368.1 L45.7,368.13 L46.7,368.2 L47.7,368.03 L48.7,368.2 L49.7,368.05 L50.7,368.1 L51.7,368.2 L52.7,368.2 L53.7,368.09 L54.7,367.91 L55.7,368.06 L56.7,367.98 L57.7,368.16 L58.7,367.82 L59.7,367.83 L60.7,367.97 L61.7,367.54 L62.7,367.58 L63.7,367.62 L64.7,367.45 L65.7,366.98 L66.7,366.76 L67.7,366.52 L68.7,366.57 L69.7,365.96 L70.7,365.75 L71.7,365.35 L72.7,364.58 L73.7,363.71 L74.7,363.96 L75.7,362.67 L76.7,361.25 L77.7,360.85 L78.7,359.11 L79.7,357.74 L80.7,355.89 L81.7,355.31 L82.7,353.73 L83.7,351.35 L84.7,349.6 L85.7,345.93 L86.7,343.64 L87.7,341.17 L88.7,338.84 L89.7,335.61 L90.7,331.38 L91.7,327.54 L92.7,323.95 L93.7,320 L94.7,316.4 L95.7,310.99 L96.7,307.35 L97.7,302.64 L98.7,298.05 L99.7,293.21 L100.7,288.18 L101.7,283 L102.7,278.24 L103.7,273.63 L104.7,269.68 L105.7,264.31 L106.7,260.3 L107.7,257.14 L108.7,252.77 L109.7,249.17 L110.7,246.13 L111.7,244.24 L112.7,241.72 L113.7,240.86 L114.7,239.4 L115.7,238.69 L116.7,237.29 L117.7,237.12 L118.7,237.62 L119.7,239.06 L120.7,240.62 L121.7,241.9 L122.7,243.61 L123.7,246.22 L124.7,249.19 L125.7,252.24 L126.7,255.6 L127.7,259.24 L128.7,262.7 L129.7,265.85 L130.7,270.92 L131.7,274.35 L132.7,279.02 L133.7,283.1 L134.7,288 L135.7,291.64 L136.7,296.09 L137.7,300.43 L138.7,304.57 L139.7,309.77 L140.7,313.42 L141.7,317.02 L142.7,320.93 L143.7,325.42 L144.7,328.24 L145.7,331.19 L146.7,335.15 L147.7,337.92 L148.7,341.19 L149.7,342.57 L150.7,345.53 L151.7,348.28 L152.7,350.41 L153.7,352.44 L154.7,352.99 L155.7,354.96 L156.7,356.19 L157.7,357.63 L158.7,359.94 L159.7,360.48 L160.7,361.95 L161.7,362.04 L162.7,363.51 L163.7,363.62 L164.7,364.2 L165.7,364.95 L166.7,365.49 L167.7,365.57 L168.7,366.13 L169.7,366.45 L170.7,366.56 L171.7,366.86 L172.7,366.97 L173.7,367.17 L174.7,367.34 L175.7,367.6 L176.7,367.73 L177.7,367.64 L178.7,367.64 L179.7,367.83 L180.7,368.02 L181.7,367.87 L182.7,367.96 L183.7,367.95 L184.7,368.2 L185.7,368.13 L186.7,367.95 L187.7,367.98 L188.7,368.11 L189.7,368.18 L190.7,368.2 L191.7,368.01 L192.7,368.05 L193.7,368.2 L194.7,368.15 L195.7,368.1 L196.7,368.12 L197.7,368.2 L198.7,368.12 L199.7,368.2 L200.7,368.14 L201.7,368.16 L202.7,368.2 L203.7,368.2 L204.7,368.14 L205.7,368.08 L206.7,368.2 L207.7,368.08 L208.7,368 L209.7,368.2 L210.7,368.17 L211.7,368.2 L212.7,368.16 L213.7,368.2 L214.7,368.18 L215.7,368.06 L216.7,368.01 L217.7,368.2 L218.7,368.2 L219.7,368.2 L220.7,368.04 L221.7,368.2 L222.7,368.15 L223.7,368.2 L224.7,368.06 L225.7,368.11 L226.7,368.2 L227.7,368.2 L228.7,368.04 L229.7,368.2 L230.7,368.2 L231.7,368.2 L232.7,368.08 L233.7,368.05 L234.7,368.2 L235.7,368.2 L236.7,368.19 L237.7,368.02 L238.7,368.2 L239.7,368.16 L240.7,368.2 L241.7,368.2 L242.7,368.2 L243.7,368.06 L244.7,368.2 L245.7,368.09 L246.7,368.16 L247.7,368.2 L248.7,368.2 L249.7,368.07 L250.7,368.09 L251.7,368.16 L252.7,368.2 L253.7,368.15 L254.7,368.05 L255.7,368.1 L256.7,368.2 L257.7,368.2 L258.7,368.02 L259.7,368.2 L260.7,368.2 L261.7,368.02 L262.7,368.2 L263.7,368.05 L264.7,368.2 L265.7,368.2" fill="none" stroke="#ff8a10" stroke-width="1.6" stroke-linejoin="round"/>
<path d="M40.7,368.2 L41.7,368.12 L42.7,368.17 L43.7,368.2 L44.7,368.17 L45.7,368.2 L46.7,368.17 L47.7,368.16 L48.7,368 L49.7,368.2 L50.7,368.17 L51.7,368.07 L52.7,368.2 L53.7,368.2 L54.7,368.13 L55.7,368 L56.7,368.1 L57.7,367.93 L58.7,367.91 L59.7,368 L60.7,367.82 L61.7,367.91 L62.7,367.87 L63.7,367.61 L64.7,367.76 L65.7,367.44 L66.7,367.57 L67.7,367.44 L68.7,367.15 L69.7,366.76 L70.7,366.7 L71.7,366.36 L72.7,366.26 L73.7,365.55 L74.7,365.39 L75.7,364.93 L76.7,364.47 L77.7,363.92 L78.7,362.28 L79.7,362.52 L80.7,360.86 L81.7,360.41 L82.7,359.13 L83.7,356.71 L84.7,356.06 L85.7,354.58 L86.7,351.52 L87.7,349.9 L88.7,348.25 L89.7,345.02 L90.7,343.45 L91.7,339.79 L92.7,337.54 L93.7,333.4 L94.7,330.51 L95.7,327.5 L96.7,322.73 L97.7,318.85 L98.7,315.08 L99.7,310.55 L100.7,305.77 L101.7,301.48 L102.7,296.87 L103.7,293.32 L104.7,288.31 L105.7,283.96 L106.7,278.33 L107.7,274.66 L108.7,269.3 L109.7,265.6 L110.7,261.66 L111.7,257.4 L112.7,254.5 L113.7,250.73 L114.7,247.75 L115.7,245.52 L116.7,242.15 L117.7,241.51 L118.7,239.54 L119.7,238.18 L120.7,238.16 L121.7,237.28 L122.7,238.56 L123.7,238.63 L124.7,239.34 L125.7,241.29 L126.7,242.58 L127.7,244.28 L128.7,247.47 L129.7,249.19 L130.7,253.24 L131.7,255.67 L132.7,259.66 L133.7,263.8 L134.7,267.07 L135.7,271.15 L136.7,274.75 L137.7,278.49 L138.7,282.78 L139.7,287.21 L140.7,292.15 L141.7,296.15 L142.7,300.49 L143.7,305.18 L144.7,308.19 L145.7,312.31 L146.7,316.77 L147.7,319.62 L148.7,323.19 L149.7,327.13 L150.7,330.07 L151.7,333.54 L152.7,336.31 L153.7,339.6 L154.7,342.23 L155.7,344.14 L156.7,347 L157.7,348.91 L158.7,350.39 L159.7,353.32 L160.7,354.01 L161.7,355.39 L162.7,356.7 L163.7,358.71 L164.7,360.17 L165.7,361.07 L166.7,361.46 L167.7,362.09 L168.7,362.48 L169.7,364.02 L170.7,364.42 L171.7,364.85 L172.7,365.42 L173.7,365.74 L174.7,366.28 L175.7,366.51 L176.7,366.58 L177.7,367.07 L178.7,366.92 L179.7,367.29 L180.7,367.38 L181.7,367.44 L182.7,367.47 L183.7,367.85 L184.7,367.62 L185.7,367.9 L186.7,368.11 L187.7,367.84 L188.7,367.9 L189.7,368.1 L190.7,368.08 L191.7,368.16 L192.7,368.2 L193.7,368.01 L194.7,368.07 L195.7,368.08 L196.7,367.99 L197.7,368.2 L198.7,368.2 L199.7,368.2 L200.7,367.99 L201.7,368.2 L202.7,368.2 L203.7,368.18 L204.7,368.2 L205.7,368.18 L206.7,368.09 L207.7,368.04 L208.7,368.09 L209.7,368.01 L210.7,368.13 L211.7,368.2 L212.7,368.2 L213.7,368.2 L214.7,368.2 L215.7,368.11 L216.7,368.2 L217.7,368.17 L218.7,368.2 L219.7,368.2 L220.7,368.11 L221.7,368.2 L222.7,368.2 L223.7,368.09 L224.7,368.2 L225.7,368.01 L226.7,368.1 L227.7,368.09 L228.7,368.2 L229.7,368.2 L230.7,368.2 L231.7,368.13 L232.7,368.2 L233.7,368.13 L234.7,368.1 L235.7,368.2 L236.7,368.2 L237.7,368.2 L238.7,368.2 L239.7,368.2 L240.7,368.19 L241.7,368.2 L242.7,368.2 L243.7,368.2 L244.7,368.17 L245.7,368.2 L246.7,368.2 L247.7,368.12 L248.7,368.08 L249.7,368.2 L250.7,368.03 L251.7,368.2 L252.7,368.06 L253.7,368.01 L254.7,368.04 L255.7,368.2 L256.7,368.14 L257.7,368.06 L258.7,368.01 L259.7,368.02 L260.7,368.2 L261.7,368.2 L262.7,368.2 L263.7,368.2 L264.7,368.03 L265.7,368.2" fill="none" stroke="#e87010" stroke-width="1.6" stroke-linejoin="round"/>
<path d="M40.7,368.14 L41.7,368.2 L42.7,368.2 L43.7,368.2 L44.7,368.02 L45.7,368.2 L46.7,368.2 L47.7,368.2 L48.7,368.04 L49.7,368.07 L50.7,368.03 L51.7,368 L52.7,368.2 L53.7,368.2 L54.7,368.2 L55.7,368.2 L56.7,368.2 L57.7,368.06 L58.7,367.97 L59.7,367.95 L60.7,368.19 L61.7,367.94 L62.7,367.96 L63.7,367.96 L64.7,367.75 L65.7,367.79 L66.7,367.73 L67.7,367.82 L68.7,367.59 L69.7,367.45 L70.7,367.58 L71.7,367.23 L72.7,367.18 L73.7,366.87 L74.7,366.38 L75.7,366.23 L76.7,365.9 L77.7,365.63 L78.7,365.01 L79.7,364.63 L80.7,364 L81.7,362.87 L82.7,363.01 L83.7,361.06 L84.7,361.11 L85.7,359.12 L86.7,357.67 L87.7,356.6 L88.7,355.9 L89.7,354.56 L90.7,351.39 L91.7,350.1 L92.7,347.96 L93.7,346.07 L94.7,342.7 L95.7,340.44 L96.7,337.35 L97.7,334.95 L98.7,330.89 L99.7,328.39 L100.7,323.84 L101.7,319.95 L102.7,316.68 L103.7,312.31 L104.7,307.54 L105.7,303.95 L106.7,298.75 L107.7,295.26 L108.7,290.62 L109.7,286.22 L110.7,281.5 L111.7,276.66 L112.7,272.36 L113.7,268.1 L114.7,264.7 L115.7,259.67 L116.7,257.1 L117.7,252.45 L118.7,249.54 L119.7,246.76 L120.7,245.14 L121.7,242.42 L122.7,240.47 L123.7,239.8 L124.7,237.92 L125.7,237.68 L126.7,237.65 L127.7,238.2 L128.7,238.78 L129.7,239.55 L130.7,240.38 L131.7,241.92 L132.7,243.55 L133.7,246.69 L134.7,248.88 L135.7,251.69 L136.7,253.84 L137.7,257.37 L138.7,261.2 L139.7,264.45 L140.7,267.49 L141.7,271.76 L142.7,276.25 L143.7,279.32 L144.7,283.28 L145.7,287.49 L146.7,292.11 L147.7,296.36 L148.7,299.4 L149.7,303.36 L150.7,307.38 L151.7,311.29 L152.7,315.27 L153.7,318.36 L154.7,322.06 L155.7,325.2 L156.7,329.5 L157.7,332.21 L158.7,334.24 L159.7,338.19 L160.7,339.59 L161.7,342.43 L162.7,345.56 L163.7,347.44 L164.7,349.36 L165.7,350.79 L166.7,352.18 L167.7,354.38 L168.7,355.09 L169.7,356.56 L170.7,358.04 L171.7,358.65 L172.7,360.17 L173.7,361.63 L174.7,362.32 L175.7,362.79 L176.7,363.63 L177.7,363.99 L178.7,364.43 L179.7,365.08 L180.7,365.42 L181.7,365.92 L182.7,366.31 L183.7,366.4 L184.7,366.71 L185.7,367 L186.7,367.05 L187.7,367.14 L188.7,367.48 L189.7,367.67 L190.7,367.73 L191.7,367.79 L192.7,367.92 L193.7,367.91 L194.7,367.95 L195.7,367.92 L196.7,367.89 L197.7,368.04 L198.7,367.84 L199.7,367.98 L200.7,368.12 L201.7,368.08 L202.7,368.03 L203.7,367.84 L204.7,367.87 L205.7,367.83 L206.7,367.83 L207.7,367.67 L208.7,367.69 L209.7,367.69 L210.7,367.27 L211.7,367.34 L212.7,367.25 L213.7,366.94 L214.7,366.83 L215.7,366.87 L216.7,366.33 L217.7,366.38 L218.7,366.07 L219.7,366.18 L220.7,366.11 L221.7,365.83 L222.7,365.57 L223.7,365.69 L224.7,365.63 L225.7,365.68 L226.7,365.6 L227.7,365.68 L228.7,365.81 L229.7,365.77 L230.7,365.83 L231.7,366.17 L232.7,366.01 L233.7,366.34 L234.7,366.38 L235.7,366.69 L236.7,366.59 L237.7,367.09 L238.7,367 L239.7,367.02 L240.7,367.24 L241.7,367.42 L242.7,367.38 L243.7,367.64 L244.7,367.73 L245.7,367.92 L246.7,367.85 L247.7,367.87 L248.7,367.9 L249.7,368.15 L250.7,368.2 L251.7,368.12 L252.7,368.02 L253.7,368.2 L254.7,368.12 L255.7,368.06 L256.7,368.03 L257.7,368.2 L258.7,368.2 L259.7,368.2 L260.7,368.18 L261.7,368.2 L262.7,368.09 L263.7,368.2 L264.7,368.14 L265.7,368.2" fill="none" stroke="#ff8c1a" stroke-width="1.6" stroke-linejoin="round"/>
<path d="M40.7,368.2 L41.7,368.2 L42.7,368.19 L43.7,368.12 L44.7,368.2 L45.7,368.05 L46.7,368.2 L47.7,368.14 L48.7,368.2 L49.7,368.1 L50.7,368.14 L51.7,368.09 L52.7,368.16 L53.7,368.06 L54.7,367.99 L55.7,368.2 L56.7,368.09 L57.7,368.07 L58.7,368.08 L59.7,368.14 L60.7,368.11 L61.7,368.18 L62.7,368.17 L63.7,368.03 L64.7,368.2 L65.7,368.18 L66.7,367.82 L67.7,368.09 L68.7,368.07 L69.7,367.96 L70.7,367.63 L71.7,367.82 L72.7,367.64 L73.7,367.28 L74.7,367.14 L75.7,367.36 L76.7,367.05 L77.7,366.67 L78.7,366.36 L79.7,366.09 L80.7,365.8 L81.7,365.64 L82.7,365.04 L83.7,364.47 L84.7,364.62 L85.7,363.84 L86.7,362.26 L87.7,362.49 L88.7,361.21 L89.7,360.47 L90.7,359.22 L91.7,358.33 L92.7,356.85 L93.7,355.46 L94.7,352.96 L95.7,351.91 L96.7,349.79 L97.7,348.03 L98.7,345.4 L99.7,343.64 L100.7,340.63 L101.7,337.5 L102.7,334.57 L103.7,331.38 L104.7,328.66 L105.7,324.66 L106.7,321.7 L107.7,317.57 L108.7,314.24 L109.7,310.31 L110.7,306.33 L111.7,302.65 L112.7,297.25 L113.7,294.17 L114.7,289.37 L115.7,285.22 L116.7,281.11 L117.7,277.15 L118.7,272.37 L119.7,268.41 L120.7,265.28 L121.7,260.31 L122.7,257.56 L123.7,254.24 L124.7,250.32 L125.7,248.32 L126.7,245.91 L127.7,244.05 L128.7,241.34 L129.7,240.72 L130.7,238.9 L131.7,238.07 L132.7,238.23 L133.7,236.97 L134.7,238.2 L135.7,238.63 L136.7,239.07 L137.7,240.94 L138.7,241.66 L139.7,243.49 L140.7,245.5 L141.7,248.02 L142.7,249.64 L143.7,252.58 L144.7,255.38 L145.7,258.57 L146.7,262.11 L147.7,264.67 L148.7,268.85 L149.7,271.79 L150.7,275.55 L151.7,278.91 L152.7,282.97 L153.7,287.39 L154.7,290.71 L155.7,294.67 L156.7,297.77 L157.7,301.45 L158.7,305.07 L159.7,309.06 L160.7,312.64 L161.7,316.26 L162.7,318.54 L163.7,322.71 L164.7,326.04 L165.7,328.54 L166.7,330.7 L167.7,333.78 L168.7,335.97 L169.7,338.69 L170.7,342.05 L171.7,343.81 L172.7,345.95 L173.7,348.08 L174.7,350.07 L175.7,351.35 L176.7,352.93 L177.7,354.41 L178.7,355.86 L179.7,356.96 L180.7,358.23 L181.7,358.63 L182.7,360.22 L183.7,360.81 L184.7,362.04 L185.7,361.83 L186.7,362.6 L187.7,362.99 L188.7,364.56 L189.7,364.82 L190.7,365.14 L191.7,365.41 L192.7,365.93 L193.7,366.21 L194.7,366.39 L195.7,366.49 L196.7,366.71 L197.7,366.93 L198.7,367.04 L199.7,367.2 L200.7,367.38 L201.7,367.57 L202.7,367.27 L203.7,367.51 L204.7,367.31 L205.7,367.33 L206.7,367.57 L207.7,367.42 L208.7,367.48 L209.7,367.2 L210.7,366.91 L211.7,366.92 L212.7,366.85 L213.7,366.82 L214.7,366.65 L215.7,366.26 L216.7,366.04 L217.7,365.72 L218.7,365.75 L219.7,365.41 L220.7,365.22 L221.7,365.03 L222.7,364.91 L223.7,365.09 L224.7,364.81 L225.7,365.12 L226.7,364.78 L227.7,365.13 L228.7,364.9 L229.7,364.96 L230.7,365.37 L231.7,365.33 L232.7,365.7 L233.7,365.66 L234.7,365.8 L235.7,366.29 L236.7,366.46 L237.7,366.72 L238.7,366.86 L239.7,366.78 L240.7,367.17 L241.7,367.36 L242.7,367.4 L243.7,367.71 L244.7,367.55 L245.7,367.93 L246.7,367.92 L247.7,367.71 L248.7,367.77 L249.7,368.07 L250.7,368.18 L251.7,367.92 L252.7,368.04 L253.7,368.2 L254.7,368.02 L255.7,368.2 L256.7,368.17 L257.7,368 L258.7,368.13 L259.7,368.2 L260.7,368.17 L261.7,368.2 L262.7,368.05 L263.7,368.2 L264.7,368.14 L265.7,368.2" fill="none" stroke="#ff1a1a" stroke-width="1.6" stroke-linejoin="round"/>
<path d="M40.7,368.2 L41.7,368.17 L42.7,368.15 L43.7,368.2 L44.7,368.2 L45.7,368.2 L46.7,368.2 L47.7,368.12 L48.7,368.02 L49.7,368.2 L50.7,368.2 L51.7,368.2 L52.7,368.13 L53.7,368.2 L54.7,368.2 L55.7,368.2 L56.7,368.2 L57.7,368.11 L58.7,368.15 L59.7,368.2 L60.7,368.12 L61.7,368.2 L62.7,368.2 L63.7,368.2 L64.7,368.2 L65.7,368.03 L66.7,367.9 L67.7,367.98 L68.7,368.02 L69.7,368.06 L70.7,368.11 L71.7,368.1 L72.7,367.71 L73.7,367.96 L74.7,367.88 L75.7,367.82 L76.7,367.61 L77.7,367.38 L78.7,367.48 L79.7,367.31 L80.7,367.09 L81.7,366.98 L82.7,366.52 L83.7,366.16 L84.7,366.04 L85.7,365.8 L86.7,365.18 L87.7,364.96 L88.7,364.54 L89.7,363.44 L90.7,363.34 L91.7,362.75 L92.7,361.68 L93.7,360.46 L94.7,359.58 L95.7,359.22 L96.7,358.13 L97.7,356.4 L98.7,354.5 L99.7,354 L100.7,352.31 L101.7,349.79 L102.7,348.36 L103.7,346.75 L104.7,344.53 L105.7,341.66 L106.7,339.09 L107.7,336.59 L108.7,333.21 L109.7,330.25 L110.7,327.13 L111.7,324.6 L112.7,320.74 L113.7,317.5 L114.7,313.64 L115.7,310.05 L116.7,305.7 L117.7,301.63 L118.7,298.98 L119.7,294.08 L120.7,289.65 L121.7,286.33 L122.7,282.5 L123.7,277.61 L124.7,274.28 L125.7,270.07 L126.7,266.56 L127.7,262.24 L128.7,258.8 L129.7,256.86 L130.7,253.61 L131.7,250.22 L132.7,247.74 L133.7,244.97 L134.7,243.64 L135.7,241.39 L136.7,240.68 L137.7,239.31 L138.7,238.6 L139.7,238.36 L140.7,237.26 L141.7,237.14 L142.7,237.8 L143.7,238.47 L144.7,239.27 L145.7,240.41 L146.7,242.55 L147.7,244.64 L148.7,245.93 L149.7,248.7 L150.7,250.93 L151.7,252.21 L152.7,255.59 L153.7,258.1 L154.7,260.65 L155.7,264.89 L156.7,267.08 L157.7,270.78 L158.7,274.24 L159.7,278.09 L160.7,281.16 L161.7,284.27 L162.7,287.86 L163.7,290.97 L164.7,295.61 L165.7,299.14 L166.7,301.51 L167.7,304.66 L168.7,308.31 L169.7,311.73 L170.7,315.71 L171.7,318.83 L172.7,321.77 L173.7,323.6 L174.7,327.46 L175.7,330.08 L176.7,332.61 L177.7,335.59 L178.7,336.67 L179.7,339.07 L180.7,342.09 L181.7,344.39 L182.7,345.95 L183.7,347.24 L184.7,349.36 L185.7,351.2 L186.7,351.78 L187.7,353.49 L188.7,354.69 L189.7,355.71 L190.7,357.33 L191.7,357.92 L192.7,358.97 L193.7,359.71 L194.7,361.25 L195.7,361.05 L196.7,362.7 L197.7,362.56 L198.7,362.88 L199.7,364.61 L200.7,364.33 L201.7,364.99 L202.7,365.3 L203.7,365.59 L204.7,365.53 L205.7,365.85 L206.7,365.87 L207.7,366.33 L208.7,366.37 L209.7,366.32 L210.7,366.25 L211.7,366.16 L212.7,366.26 L213.7,365.99 L214.7,365.9 L215.7,365.52 L216.7,365.36 L217.7,365.09 L218.7,365.15 L219.7,364.9 L220.7,364.56 L221.7,364.69 L222.7,364.33 L223.7,364.29 L224.7,363.78 L225.7,363.92 L226.7,364.73 L227.7,364.24 L228.7,364.27 L229.7,364.52 L230.7,364.61 L231.7,365.03 L232.7,364.92 L233.7,365.49 L234.7,365.35 L235.7,365.93 L236.7,366.08 L237.7,366.13 L238.7,366.47 L239.7,366.61 L240.7,366.8 L241.7,366.96 L242.7,367.2 L243.7,367.6 L244.7,367.74 L245.7,367.83 L246.7,367.6 L247.7,367.76 L248.7,368.08 L249.7,367.8 L250.7,368.12 L251.7,367.98 L252.7,368.2 L253.7,367.93 L254.7,368.2 L255.7,368.09 L256.7,368.02 L257.7,367.98 L258.7,368.2 L259.7,368.2 L260.7,368.07 L261.7,368.17 L262.7,368.2 L263.7,368.08 L264.7,368.2 L265.7,368.05" fill="none" stroke="#ee1010" stroke-width="1.6" stroke-linejoin="round"/>
<path d="M40.7,368.07 L41.7,368.2 L42.7,368.2 L43.7,368.08 L44.7,368.03 L45.7,368.03 L46.7,368.2 L47.7,368.2 L48.7,368.11 L49.7,368.08 L50.7,368.2 L51.7,368.2 L52.7,368.2 L53.7,368.2 L54.7,368.08 L55.7,368.02 L56.7,368.2 L57.7,368.16 L58.7,368.2 L59.7,368.01 L60.7,368.2 L61.7,368.12 L62.7,368.2 L63.7,368.2 L64.7,368.17 L65.7,367.97 L66.7,368.2 L67.7,368.14 L68.7,368.2 L69.7,368.03 L70.7,367.98 L71.7,368.2 L72.7,368.01 L73.7,367.9 L74.7,367.96 L75.7,368.01 L76.7,367.73 L77.7,367.88 L78.7,367.79 L79.7,367.75 L80.7,367.52 L81.7,367.66 L82.7,367.59 L83.7,367.49 L84.7,367.13 L85.7,367.12 L86.7,366.8 L87.7,366.74 L88.7,366.22 L89.7,366.27 L90.7,366 L91.7,365.46 L92.7,365.08 L93.7,364.64 L94.7,364.19 L95.7,362.91 L96.7,363.62 L97.7,361.9 L98.7,361.08 L99.7,360.14 L100.7,359.43 L101.7,359.21 L102.7,357.01 L103.7,355.9 L104.7,355.43 L105.7,353.3 L106.7,351.51 L107.7,350.66 L108.7,348.84 L109.7,346.85 L110.7,345.05 L111.7,342.02 L112.7,340.77 L113.7,338.1 L114.7,334.55 L115.7,331.92 L116.7,329.57 L117.7,326.57 L118.7,323.13 L119.7,319.65 L120.7,316.68 L121.7,312.83 L122.7,309.9 L123.7,306.62 L124.7,301.89 L125.7,298.7 L126.7,295.12 L127.7,290.45 L128.7,287.51 L129.7,283.81 L130.7,279.22 L131.7,275.49 L132.7,272.37 L133.7,268.31 L134.7,264.62 L135.7,262.01 L136.7,258.55 L137.7,254.88 L138.7,251.89 L139.7,249.37 L140.7,247.09 L141.7,245.67 L142.7,243.5 L143.7,242.01 L144.7,240.5 L145.7,239.48 L146.7,237.6 L147.7,237.78 L148.7,238.24 L149.7,238.32 L150.7,237.7 L151.7,238.51 L152.7,239.59 L153.7,240.21 L154.7,241.66 L155.7,242.44 L156.7,244.56 L157.7,246.47 L158.7,247.79 L159.7,250.12 L160.7,253.6 L161.7,255.81 L162.7,258.64 L163.7,260.96 L164.7,264.06 L165.7,267.11 L166.7,270.16 L167.7,272.08 L168.7,276.11 L169.7,278.81 L170.7,282.65 L171.7,285.37 L172.7,289.05 L173.7,292.88 L174.7,295.74 L175.7,298.49 L176.7,302.1 L177.7,305.17 L178.7,309.04 L179.7,311.19 L180.7,314.24 L181.7,317.66 L182.7,319.79 L183.7,323.24 L184.7,326.44 L185.7,328.42 L186.7,330.59 L187.7,333.27 L188.7,335.68 L189.7,337.35 L190.7,339.42 L191.7,341.44 L192.7,343.57 L193.7,345.54 L194.7,347.08 L195.7,348.62 L196.7,349.91 L197.7,351.97 L198.7,353.71 L199.7,354.62 L200.7,355.72 L201.7,356.9 L202.7,357.26 L203.7,358.89 L204.7,359.4 L205.7,360.31 L206.7,361.12 L207.7,361.59 L208.7,361.96 L209.7,362.39 L210.7,362.79 L211.7,363.52 L212.7,363.55 L213.7,363.94 L214.7,363.15 L215.7,363.57 L216.7,364.16 L217.7,363.14 L218.7,363.42 L219.7,363.16 L220.7,362.7 L221.7,363.54 L222.7,362.46 L223.7,363.05 L224.7,362.15 L225.7,362.03 L226.7,363.21 L227.7,362.71 L228.7,362.33 L229.7,362.97 L230.7,363.28 L231.7,363.95 L232.7,363.37 L233.7,363.84 L234.7,364.74 L235.7,364.98 L236.7,365.08 L237.7,365.48 L238.7,365.79 L239.7,366.22 L240.7,366.47 L241.7,366.82 L242.7,367.04 L243.7,367.13 L244.7,367.4 L245.7,367.56 L246.7,367.7 L247.7,367.71 L248.7,367.93 L249.7,367.98 L250.7,368.13 L251.7,367.87 L252.7,368.2 L253.7,367.89 L254.7,368.2 L255.7,368.17 L256.7,368.15 L257.7,368.2 L258.7,368.2 L259.7,368.15 L260.7,368.2 L261.7,368.2 L262.7,368.2 L263.7,368.15 L264.7,368.18 L265.7,368.18" fill="none" stroke="#dd1111" stroke-width="1.6" stroke-linejoin="round"/>
<path d="M40.7,368.2 L41.7,368.12 L42.7,368.16 L43.7,368.2 L44.7,368.15 L45.7,368.13 L46.7,368.2 L47.7,368.2 L48.7,368.2 L49.7,368.18 L50.7,368.07 L51.7,368.12 L52.7,368.06 L53.7,368.2 L54.7,368.2 L55.7,368.03 L56.7,368.2 L57.7,368.13 L58.7,368.2 L59.7,368.2 L60.7,368.2 L61.7,368.08 L62.7,368.16 L63.7,368.2 L64.7,367.99 L65.7,368 L66.7,368.2 L67.7,368.18 L68.7,368.2 L69.7,368.2 L70.7,368.17 L71.7,368.2 L72.7,368.15 L73.7,368.13 L74.7,368.19 L75.7,368.05 L76.7,368.01 L77.7,368.08 L78.7,367.96 L79.7,368.16 L80.7,368.01 L81.7,367.9 L82.7,367.67 L83.7,367.72 L84.7,367.65 L85.7,367.63 L86.7,367.53 L87.7,367.53 L88.7,367.43 L89.7,367.08 L90.7,366.89 L91.7,366.76 L92.7,366.67 L93.7,366.15 L94.7,365.92 L95.7,365.7 L96.7,365.06 L97.7,364.69 L98.7,364.48 L99.7,364.21 L100.7,363.18 L101.7,361.95 L102.7,362.32 L103.7,361.22 L104.7,360.51 L105.7,359.77 L106.7,358.55 L107.7,356.72 L108.7,355.07 L109.7,353.87 L110.7,352.68 L111.7,351.04 L112.7,348.85 L113.7,346.96 L114.7,345.58 L115.7,343.4 L116.7,340.76 L117.7,339.24 L118.7,336.18 L119.7,332.65 L120.7,330.33 L121.7,327.89 L122.7,324.12 L123.7,321.44 L124.7,317.14 L125.7,314.12 L126.7,311.33 L127.7,307.34 L128.7,303.75 L129.7,299.32 L130.7,295.92 L131.7,292.15 L132.7,287.89 L133.7,284.56 L134.7,280.56 L135.7,277.42 L136.7,273.1 L137.7,269.22 L138.7,265.27 L139.7,261.91 L140.7,259.48 L141.7,255.46 L142.7,252.53 L143.7,249.91 L144.7,247.91 L145.7,246.08 L146.7,243.78 L147.7,242.32 L148.7,239.83 L149.7,238.6 L150.7,238.8 L151.7,237.61 L152.7,237.92 L153.7,237.43 L154.7,237.35 L155.7,237.8 L156.7,238.03 L157.7,239.76 L158.7,240.05 L159.7,240.61 L160.7,241.76 L161.7,242.82 L162.7,243.63 L163.7,246.19 L164.7,247.28 L165.7,249.44 L166.7,250.45 L167.7,252.54 L168.7,253.96 L169.7,255.71 L170.7,259.07 L171.7,261.16 L172.7,262.67 L173.7,265.82 L174.7,268.1 L175.7,269.84 L176.7,272.75 L177.7,275.79 L178.7,277.71 L179.7,280.94 L180.7,282.57 L181.7,285.4 L182.7,288.5 L183.7,290.45 L184.7,293.2 L185.7,296.62 L186.7,298.69 L187.7,301.71 L188.7,303.51 L189.7,305.94 L190.7,308.7 L191.7,310.93 L192.7,314.45 L193.7,315.87 L194.7,318.58 L195.7,320.23 L196.7,323.04 L197.7,325.01 L198.7,327.15 L199.7,328.75 L200.7,330.85 L201.7,333.82 L202.7,335.11 L203.7,336.89 L204.7,338.75 L205.7,340.83 L206.7,342.74 L207.7,344.46 L208.7,347.36 L209.7,348.89 L210.7,350.51 L211.7,352.96 L212.7,353.53 L213.7,354.92 L214.7,356.57 L215.7,356.19 L216.7,357.05 L217.7,357.88 L218.7,358.02 L219.7,357.25 L220.7,357.62 L221.7,358.23 L222.7,357.85 L223.7,358.8 L224.7,357.92 L225.7,359.18 L226.7,358.81 L227.7,358.73 L228.7,359.4 L229.7,359.35 L230.7,360.6 L231.7,360.45 L232.7,361.84 L233.7,361.92 L234.7,362.14 L235.7,362.49 L236.7,363.51 L237.7,363.46 L238.7,364.49 L239.7,364.64 L240.7,365.22 L241.7,365.62 L242.7,365.86 L243.7,366.38 L244.7,366.51 L245.7,366.87 L246.7,367.05 L247.7,367.13 L248.7,367.32 L249.7,367.34 L250.7,367.49 L251.7,367.85 L252.7,367.72 L253.7,367.92 L254.7,367.76 L255.7,367.98 L256.7,367.94 L257.7,368.03 L258.7,367.97 L259.7,367.9 L260.7,368.02 L261.7,368 L262.7,367.97 L263.7,368.2 L264.7,368.05 L265.7,368.11" fill="none" stroke="#9a5a22" stroke-width="1.6" stroke-linejoin="round"/>
<path d="M40.7,368.2 L41.7,368.2 L42.7,368.2 L43.7,368.2 L44.7,368.05 L45.7,368.11 L46.7,368.01 L47.7,368.2 L48.7,368.2 L49.7,368.14 L50.7,368.16 L51.7,368.2 L52.7,368.2 L53.7,368.1 L54.7,368.2 L55.7,368.14 L56.7,368.2 L57.7,368.07 L58.7,368.05 L59.7,368.2 L60.7,368.2 L61.7,368.2 L62.7,368.01 L63.7,368.01 L64.7,368.06 L65.7,368.08 L66.7,368.12 L67.7,368.15 L68.7,368.01 L69.7,368.12 L70.7,368.2 L71.7,368.06 L72.7,368.2 L73.7,368.2 L74.7,368.2 L75.7,368.07 L76.7,368.14 L77.7,368.2 L78.7,368.09 L79.7,367.94 L80.7,368.2 L81.7,368.2 L82.7,368.01 L83.7,367.9 L84.7,368.2 L85.7,368.08 L86.7,367.82 L87.7,367.87 L88.7,367.77 L89.7,368 L90.7,367.71 L91.7,367.93 L92.7,367.79 L93.7,367.44 L94.7,367.59 L95.7,367.37 L96.7,367.38 L97.7,367.28 L98.7,366.9 L99.7,366.64 L100.7,366.78 L101.7,366.35 L102.7,366.29 L103.7,365.91 L104.7,365.6 L105.7,365.28 L106.7,364.8 L107.7,364.28 L108.7,363.18 L109.7,363.54 L110.7,362.55 L111.7,362.01 L112.7,361.86 L113.7,359.94 L114.7,359.95 L115.7,357.99 L116.7,357.88 L117.7,356.9 L118.7,354.92 L119.7,354 L120.7,353.18 L121.7,351.19 L122.7,349.43 L123.7,347.28 L124.7,345.16 L125.7,343.61 L126.7,341.59 L127.7,339.09 L128.7,336.91 L129.7,334.21 L130.7,332.44 L131.7,329.7 L132.7,326.3 L133.7,323.39 L134.7,320.75 L135.7,317.54 L136.7,315.01 L137.7,310.89 L138.7,307.45 L139.7,304.82 L140.7,300.28 L141.7,297.33 L142.7,293.43 L143.7,290.51 L144.7,286.54 L145.7,283.24 L146.7,278.85 L147.7,276.03 L148.7,272.47 L149.7,268.89 L150.7,266.03 L151.7,262.93 L152.7,258.87 L153.7,256.2 L154.7,253.54 L155.7,250.75 L156.7,248.15 L157.7,246.26 L158.7,244.17 L159.7,243.13 L160.7,241.26 L161.7,239.53 L162.7,238.82 L163.7,238.27 L164.7,237.64 L165.7,237.15 L166.7,237.04 L167.7,237.12 L168.7,238.82 L169.7,238.94 L170.7,238.61 L171.7,240.24 L172.7,241.49 L173.7,241.92 L174.7,242.43 L175.7,244.24 L176.7,245.56 L177.7,246.73 L178.7,248.85 L179.7,249.84 L180.7,252.96 L181.7,254.52 L182.7,256.52 L183.7,259.07 L184.7,260.87 L185.7,262.58 L186.7,264.91 L187.7,267.16 L188.7,269.45 L189.7,272.99 L190.7,275.62 L191.7,277.43 L192.7,279.87 L193.7,283.12 L194.7,286.05 L195.7,288.81 L196.7,290.4 L197.7,293.93 L198.7,296.66 L199.7,299.21 L200.7,301.32 L201.7,303.84 L202.7,307.51 L203.7,309.65 L204.7,312.67 L205.7,316.03 L206.7,319.06 L207.7,323.19 L208.7,326 L209.7,329.43 L210.7,333.81 L211.7,337.28 L212.7,340.52 L213.7,342.82 L214.7,345.04 L215.7,346.57 L216.7,347.04 L217.7,347.87 L218.7,348.02 L219.7,348.71 L220.7,349.53 L221.7,349.23 L222.7,350.47 L223.7,350.15 L224.7,350.99 L225.7,352.23 L226.7,351.55 L227.7,352.09 L228.7,353.31 L229.7,353.68 L230.7,355.18 L231.7,354.97 L232.7,356.96 L233.7,357.82 L234.7,358.56 L235.7,358.89 L236.7,359.51 L237.7,360.82 L238.7,361.37 L239.7,361.96 L240.7,362.51 L241.7,363.27 L242.7,364.15 L243.7,364.56 L244.7,365.05 L245.7,365.17 L246.7,365.59 L247.7,365.97 L248.7,366.3 L249.7,366.46 L250.7,366.61 L251.7,366.75 L252.7,367 L253.7,367.2 L254.7,367.52 L255.7,367.6 L256.7,367.67 L257.7,367.79 L258.7,367.85 L259.7,367.77 L260.7,367.9 L261.7,367.65 L262.7,367.94 L263.7,367.95 L264.7,367.85 L265.7,367.99" fill="none" stroke="#a01818" stroke-width="1.6" stroke-linejoin="round"/>
<path d="M40.7,368.2 L41.7,368.19 L42.7,368.2 L43.7,368.12 L44.7,368.14 L45.7,368.2 L46.7,368.01 L47.7,368.08 L48.7,368.2 L49.7,368.18 L50.7,368.03 L51.7,368.2 L52.7,368.15 L53.7,368.2 L54.7,368.17 L55.7,368.2 L56.7,368.2 L57.7,368.16 L58.7,368.05 L59.7,368.07 L60.7,368.2 L61.7,368.2 L62.7,368.04 L63.7,368.2 L64.7,368.1 L65.7,368.04 L66.7,368.2 L67.7,368.1 L68.7,368.19 L69.7,368.2 L70.7,368.08 L71.7,368.2 L72.7,368.03 L73.7,368.19 L74.7,368.2 L75.7,368.01 L76.7,368.14 L77.7,368 L78.7,368.14 L79.7,368.2 L80.7,368.17 L81.7,368.2 L82.7,368.2 L83.7,367.97 L84.7,368.2 L85.7,368.18 L86.7,367.91 L87.7,368.18 L88.7,367.98 L89.7,367.86 L90.7,368.14 L91.7,367.94 L92.7,367.98 L93.7,367.67 L94.7,367.86 L95.7,367.5 L96.7,367.49 L97.7,367.45 L98.7,367.2 L99.7,367.31 L100.7,367.02 L101.7,366.9 L102.7,366.89 L103.7,366.58 L104.7,366.54 L105.7,366.18 L106.7,366 L107.7,365.57 L108.7,365.36 L109.7,364.96 L110.7,364.25 L111.7,364.25 L112.7,363.16 L113.7,363.17 L114.7,362.42 L115.7,361.93 L116.7,360.18 L117.7,359.7 L118.7,359.31 L119.7,358.62 L120.7,357.23 L121.7,355.13 L122.7,354.67 L123.7,352.63 L124.7,351.82 L125.7,350.63 L126.7,348.02 L127.7,347.41 L128.7,345.19 L129.7,342.63 L130.7,340.45 L131.7,338.6 L132.7,336.83 L133.7,334.03 L134.7,330.83 L135.7,328.04 L136.7,325.4 L137.7,323.49 L138.7,319.65 L139.7,317.1 L140.7,313.58 L141.7,310.9 L142.7,307.16 L143.7,303.45 L144.7,301.05 L145.7,297.11 L146.7,293.82 L147.7,290.47 L148.7,287.15 L149.7,282.33 L150.7,279.31 L151.7,275.59 L152.7,272.69 L153.7,269.89 L154.7,266.56 L155.7,262.36 L156.7,259.55 L157.7,257.56 L158.7,254.63 L159.7,251.66 L160.7,249.38 L161.7,246.74 L162.7,245.7 L163.7,243.28 L164.7,242.39 L165.7,240.69 L166.7,238.86 L167.7,238.37 L168.7,237.62 L169.7,238.23 L170.7,237.73 L171.7,237.08 L172.7,237.54 L173.7,238.26 L174.7,239.02 L175.7,239.94 L176.7,240.61 L177.7,241.64 L178.7,242.39 L179.7,244.57 L180.7,245.75 L181.7,246.97 L182.7,249.37 L183.7,252.02 L184.7,252.72 L185.7,255 L186.7,257.97 L187.7,259.74 L188.7,262.16 L189.7,264.97 L190.7,267.21 L191.7,270.27 L192.7,272.9 L193.7,276.24 L194.7,279.07 L195.7,280.55 L196.7,284.14 L197.7,287.32 L198.7,290.39 L199.7,293.21 L200.7,296.03 L201.7,299.1 L202.7,301.89 L203.7,305.05 L204.7,309.21 L205.7,312.95 L206.7,316.92 L207.7,320.68 L208.7,324.48 L209.7,329.56 L210.7,333.91 L211.7,337.69 L212.7,341.51 L213.7,344.16 L214.7,346.86 L215.7,348.47 L216.7,349.25 L217.7,350.42 L218.7,350.8 L219.7,351.81 L220.7,350.95 L221.7,350.52 L222.7,350.07 L223.7,349.88 L224.7,350.08 L225.7,350.12 L226.7,350.6 L227.7,352.8 L228.7,353.47 L229.7,354.92 L230.7,356.64 L231.7,357.82 L232.7,359.09 L233.7,360.27 L234.7,361.73 L235.7,362.69 L236.7,364.04 L237.7,364.36 L238.7,365.01 L239.7,365.17 L240.7,365.72 L241.7,365.86 L242.7,365.89 L243.7,366.13 L244.7,366.47 L245.7,366.8 L246.7,366.69 L247.7,367 L248.7,366.98 L249.7,367.27 L250.7,367.06 L251.7,367.32 L252.7,367.57 L253.7,367.4 L254.7,367.46 L255.7,367.44 L256.7,367.55 L257.7,367.65 L258.7,367.87 L259.7,367.72 L260.7,367.83 L261.7,367.79 L262.7,367.98 L263.7,368.11 L264.7,368.05 L265.7,367.9" fill="none" stroke="#111111" stroke-width="1.6" stroke-linejoin="round"/>
<path d="M40.7,368.19 L42.2,368.2 L43.7,368.02 L45.2,367.57 L46.7,368.12 L48.2,368.14 L49.7,367.68 L51.2,367.48 L52.7,367.49 L54.2,367.74 L55.7,367.98 L57.2,367.75 L58.7,367.95 L60.2,367.35 L61.7,367.41 L63.2,367.71 L64.7,367.6 L66.2,367.37 L67.7,367.56 L69.2,367.25 L70.7,367 L72.2,367.25 L73.7,366.92 L75.2,367.35 L76.7,367.09 L78.2,367.18 L79.7,367.23 L81.2,366.93 L82.7,367.06 L84.2,366.67 L85.7,367.37 L87.2,367.04 L88.7,367.35 L90.2,366.57 L91.7,366.99 L93.2,367.04 L94.7,366.69 L96.2,366.47 L97.7,366.49 L99.2,366.45 L100.7,366.92 L102.2,366.34 L103.7,366.89 L105.2,366.54 L106.7,366.6 L108.2,366.61 L109.7,366.55 L111.2,366.03 L112.7,365.23 L114.2,364.26 L115.7,363.84 L117.2,362.71 L118.7,362.32 L120.2,362.03 L121.7,361.31 L123.2,359.44 L124.7,359.54 L126.2,358.72 L127.7,356.15 L129.2,354.42 L130.7,353.69 L132.2,353.38 L133.7,350.13 L135.2,348.52 L136.7,348.33 L138.2,347.45 L139.7,346.42 L141.2,342.47 L142.7,340.6 L144.2,335.4 L145.7,333.29 L147.2,328.32 L148.7,324.79 L150.2,321.67 L151.7,318.12 L153.2,315.8 L154.7,311.8 L156.2,305.9 L157.7,302.72 L159.2,296.34 L160.7,290.83 L162.2,285.89 L163.7,282.24 L165.2,277.32 L166.7,269.73 L168.2,263.64 L169.7,259.67 L171.2,252.81 L172.7,250.27 L174.2,244.8 L175.7,242.13 L177.2,239.93 L178.7,241.94 L180.2,242.12 L181.7,242.79 L183.2,242.77 L184.7,239.36 L186.2,239.36 L187.7,237.42 L189.2,239.82 L190.7,238.09 L192.2,241.48 L193.7,242.03 L195.2,244.49 L196.7,245.22 L198.2,249.19 L199.7,251.99 L201.2,253.42 L202.7,253.35 L204.2,254.96 L205.7,256.1 L207.2,257.43 L208.7,257.26 L210.2,257.79 L211.7,262.94 L213.2,265.47 L214.7,267.09 L216.2,272.88 L217.7,272.77 L219.2,277.18 L220.7,278.53 L222.2,284.35 L223.7,287.36 L225.2,287.93 L226.7,292.85 L228.2,296.12 L229.7,296.94 L231.2,299.97 L232.7,303 L234.2,307.04 L235.7,306.53 L237.2,311.03 L238.7,313.1 L240.2,314.98 L241.7,317.98 L243.2,321.7 L244.7,321.51 L246.2,326.7 L247.7,327.11 L249.2,331.29 L250.7,333.65 L252.2,332.43 L253.7,336.66 L255.2,338.68 L256.7,337.39 L258.2,337.8 L259.7,339.65 L261.2,344.6 L262.7,342.24 L264.2,347.2 L265.7,344.53" fill="none" stroke="#8c8c12" stroke-width="1.7" stroke-linejoin="round"/>
<rect x="40.5" y="179.2" width="225.5" height="189" fill="none" stroke="#333" stroke-width="1.2"/>
<line x1="40.5" y1="185.5" x2="45" y2="185.5" stroke="#333" stroke-width="1"/>
<line x1="40.5" y1="198.6" x2="42.7" y2="198.6" stroke="#333" stroke-width="1"/>
<line x1="40.5" y1="211.7" x2="45" y2="211.7" stroke="#333" stroke-width="1"/>
<line x1="40.5" y1="224.8" x2="42.7" y2="224.8" stroke="#333" stroke-width="1"/>
<line x1="40.5" y1="237.9" x2="45" y2="237.9" stroke="#333" stroke-width="1"/>
<line x1="40.5" y1="251" x2="42.7" y2="251" stroke="#333" stroke-width="1"/>
<line x1="40.5" y1="264.1" x2="45" y2="264.1" stroke="#333" stroke-width="1"/>
<line x1="40.5" y1="277.2" x2="42.7" y2="277.2" stroke="#333" stroke-width="1"/>
<line x1="40.5" y1="290.3" x2="45" y2="290.3" stroke="#333" stroke-width="1"/>
<line x1="40.5" y1="303.4" x2="42.7" y2="303.4" stroke="#333" stroke-width="1"/>
<line x1="40.5" y1="316.5" x2="45" y2="316.5" stroke="#333" stroke-width="1"/>
<line x1="40.5" y1="329.6" x2="42.7" y2="329.6" stroke="#333" stroke-width="1"/>
<line x1="40.5" y1="342.7" x2="45" y2="342.7" stroke="#333" stroke-width="1"/>
<line x1="40.5" y1="355.8" x2="42.7" y2="355.8" stroke="#333" stroke-width="1"/>
<line x1="56.78" y1="368.2" x2="56.78" y2="365.7" stroke="#333" stroke-width="1"/>
<line x1="72.86" y1="368.2" x2="72.86" y2="365.7" stroke="#333" stroke-width="1"/>
<line x1="88.94" y1="368.2" x2="88.94" y2="365.7" stroke="#333" stroke-width="1"/>
<line x1="105.02" y1="368.2" x2="105.02" y2="365.7" stroke="#333" stroke-width="1"/>
<line x1="121.1" y1="368.2" x2="121.1" y2="365.7" stroke="#333" stroke-width="1"/>
<line x1="137.18" y1="368.2" x2="137.18" y2="365.7" stroke="#333" stroke-width="1"/>
<line x1="153.26" y1="368.2" x2="153.26" y2="365.7" stroke="#333" stroke-width="1"/>
<line x1="169.34" y1="368.2" x2="169.34" y2="365.7" stroke="#333" stroke-width="1"/>
<line x1="185.42" y1="368.2" x2="185.42" y2="365.7" stroke="#333" stroke-width="1"/>
<line x1="201.5" y1="368.2" x2="201.5" y2="365.7" stroke="#333" stroke-width="1"/>
<line x1="217.58" y1="368.2" x2="217.58" y2="365.7" stroke="#333" stroke-width="1"/>
<line x1="233.66" y1="368.2" x2="233.66" y2="365.7" stroke="#333" stroke-width="1"/>
<line x1="249.74" y1="368.2" x2="249.74" y2="365.7" stroke="#333" stroke-width="1"/>
<text x="40.7" y="381.3" text-anchor="middle" style="font-family:'Liberation Sans',sans-serif;font-size:10.2px" fill="#333">400</text>
<text x="72.86" y="381.3" text-anchor="middle" style="font-family:'Liberation Sans',sans-serif;font-size:10.2px" fill="#333">500</text>
<text x="105.02" y="381.3" text-anchor="middle" style="font-family:'Liberation Sans',sans-serif;font-size:10.2px" fill="#333">600</text>
<text x="137.18" y="381.3" text-anchor="middle" style="font-family:'Liberation Sans',sans-serif;font-size:10.2px" fill="#333">700</text>
<text x="169.34" y="381.3" text-anchor="middle" style="font-family:'Liberation Sans',sans-serif;font-size:10.2px" fill="#333">800</text>
<text x="201.5" y="381.3" text-anchor="middle" style="font-family:'Liberation Sans',sans-serif;font-size:10.2px" fill="#333">900</text>
<text x="233.66" y="381.3" text-anchor="middle" style="font-family:'Liberation Sans',sans-serif;font-size:10.2px" fill="#333">1000</text>
<text x="265.82" y="381.3" text-anchor="middle" style="font-family:'Liberation Sans',sans-serif;font-size:10.2px" fill="#333">1100</text>
<text x="101.3" y="395" textLength="96.7" lengthAdjust="spacingAndGlyphs" style="font-family:'Liberation Sans',sans-serif;font-size:13.3px" fill="#222">Wavelength (nm)</text>
<text transform="translate(32.8,346.8) rotate(-90)" textLength="134" lengthAdjust="spacingAndGlyphs" style="font-family:'Liberation Sans',sans-serif;font-size:11.5px" fill="#222">Normalized PL Intensity</text>
<line x1="82.8" y1="223.3" x2="82.8" y2="237.5" stroke="#999" stroke-width="1"/>
<line x1="111.5" y1="223.3" x2="111.5" y2="237.5" stroke="#999" stroke-width="1"/>
<line x1="149.5" y1="223.3" x2="149.5" y2="237.5" stroke="#999" stroke-width="1"/>
<line x1="170.4" y1="223.3" x2="170.4" y2="237.5" stroke="#999" stroke-width="1"/>
<line x1="188.6" y1="223.3" x2="188.6" y2="237.5" stroke="#999" stroke-width="1"/>
<line x1="82.8" y1="230.4" x2="149.5" y2="230.4" stroke="#999" stroke-width="1"/>
<line x1="149.5" y1="230.6" x2="170.4" y2="230.6" stroke="#999" stroke-width="1"/>
<line x1="149.5" y1="234.4" x2="188.6" y2="234.4" stroke="#999" stroke-width="1"/>
<polygon points="107.7,228.6 111.2,230.4 107.7,232.2" fill="#888"/>
<polygon points="145.7,228.6 149.2,230.4 145.7,232.2" fill="#888"/>
<polygon points="166.6,228.8 170.1,230.6 166.6,232.4" fill="#888"/>
<polygon points="184.8,232.6 188.3,234.4 184.8,236.2" fill="#888"/>
<text transform="translate(99.6,226.2) rotate(-65)" style="font-family:'Liberation Sans',sans-serif;font-size:8.5px" fill="#2a2a2a" stroke="#2a2a2a" stroke-width="0.25">Cu/In ratio</text>
<text transform="translate(129.8,226.4) rotate(-65)" style="font-family:'Liberation Sans',sans-serif;font-size:8.5px" fill="#2a2a2a" stroke="#2a2a2a" stroke-width="0.25">Core growth</text>
<text transform="translate(160.2,226.2) rotate(-65)" style="font-family:'Liberation Sans',sans-serif;font-size:8.5px" fill="#2a2a2a" stroke="#2a2a2a" stroke-width="0.25">Ag alloying</text>
<text transform="translate(179.4,229.8) rotate(-65)" style="font-family:'Liberation Sans',sans-serif;font-size:8.5px" fill="#2a2a2a" stroke="#2a2a2a" stroke-width="0.25">In precursor</text>
<rect x="300.5" y="178.2" width="247" height="215" fill="#030308"/>
<defs><filter id="blur1" x="-30%" y="-30%" width="160%" height="160%"><feGaussianBlur stdDeviation="1.6"/></filter><filter id="blur2" x="-50%" y="-50%" width="200%" height="200%"><feGaussianBlur stdDeviation="3"/></filter></defs>
<defs><filter id="blur05" x="-10%" y="-10%" width="120%" height="120%"><feGaussianBlur stdDeviation="0.6"/></filter></defs>
<linearGradient id="dv305212" x1="0" y1="0" x2="0" y2="1"><stop offset="0" stop-color="#2424c4"/><stop offset="1" stop-color="#1c1cb4"/></linearGradient>
<rect x="304.2" y="212" width="34.8" height="67" rx="5" fill="#2020c0" opacity="0.35" filter="url(#blur2)"/>
<rect x="305.7" y="212" width="31.8" height="7.5" rx="4" fill="#10106a" filter="url(#blur05)"/>
<rect x="305.7" y="217.5" width="31.8" height="59.5" rx="3.5" fill="url(#dv305212)" filter="url(#blur05)"/>
<rect x="306.7" y="217" width="29.8" height="3" rx="1.5" fill="#2a2ad0" opacity="0.9" filter="url(#blur1)"/>
<linearGradient id="dv345206" x1="0" y1="0" x2="0" y2="1"><stop offset="0" stop-color="#58dcea"/><stop offset="1" stop-color="#3cc8e4"/></linearGradient>
<rect x="344" y="206.4" width="35.9" height="71.3" rx="5" fill="#30c0e0" opacity="0.35" filter="url(#blur2)"/>
<rect x="346.5" y="273.7" width="30.9" height="9" fill="#2050d0" opacity="0.75" filter="url(#blur1)"/>
<rect x="345.5" y="206.4" width="32.9" height="6.6" rx="4" fill="#80e0f0" filter="url(#blur05)"/>
<rect x="345.5" y="211" width="32.9" height="64.7" rx="3.5" fill="url(#dv345206)" filter="url(#blur05)"/>
<rect x="346.5" y="210.5" width="30.9" height="3" rx="1.5" fill="#e0ffff" opacity="0.9" filter="url(#blur1)"/>
<linearGradient id="dv388209" x1="0" y1="0" x2="0" y2="1"><stop offset="0" stop-color="#48ecdc"/><stop offset="1" stop-color="#30d8c8"/></linearGradient>
<rect x="387.1" y="209.8" width="33.7" height="69" rx="5" fill="#20c8b8" opacity="0.35" filter="url(#blur2)"/>
<rect x="389.6" y="274.8" width="28.7" height="9" fill="#106858" opacity="0.75" filter="url(#blur1)"/>
<rect x="388.6" y="209.8" width="30.7" height="4.7" rx="4" fill="#60d8d0" filter="url(#blur05)"/>
<rect x="388.6" y="212.5" width="30.7" height="64.3" rx="3.5" fill="url(#dv388209)" filter="url(#blur05)"/>
<rect x="389.6" y="212" width="28.7" height="3" rx="1.5" fill="#c8fff4" opacity="0.9" filter="url(#blur1)"/>
<linearGradient id="dv430209" x1="0" y1="0" x2="0" y2="1"><stop offset="0" stop-color="#34c860"/><stop offset="1" stop-color="#58e070"/></linearGradient>
<rect x="429.1" y="209.2" width="33.1" height="67" rx="5" fill="#30c050" opacity="0.35" filter="url(#blur2)"/>
<rect x="431.6" y="272.2" width="28.1" height="9" fill="#185828" opacity="0.75" filter="url(#blur1)"/>
<rect x="430.6" y="209.2" width="30.1" height="14.3" rx="4" fill="#1a4a2a" filter="url(#blur05)"/>
<rect x="430.6" y="221.5" width="30.1" height="52.7" rx="3.5" fill="url(#dv430209)" filter="url(#blur05)"/>
<rect x="431.6" y="221" width="28.1" height="3" rx="1.5" fill="#b0ffc0" opacity="0.9" filter="url(#blur1)"/>
<ellipse cx="445.65" cy="267.2" rx="10.53" ry="5" fill="#d0ffe0" opacity="0.8" filter="url(#blur2)"/>
<linearGradient id="dv469210" x1="0" y1="0" x2="0" y2="1"><stop offset="0" stop-color="#f8f0b8"/><stop offset="1" stop-color="#f4ecb0"/></linearGradient>
<rect x="468.1" y="210.4" width="36.1" height="65.6" rx="5" fill="#e0b040" opacity="0.35" filter="url(#blur2)"/>
<rect x="470.6" y="272" width="31.1" height="9" fill="#a04818" opacity="0.75" filter="url(#blur1)"/>
<rect x="469.6" y="210.4" width="33.1" height="10.6" rx="4" fill="#94582a" filter="url(#blur05)"/>
<rect x="469.6" y="219" width="33.1" height="55" rx="3.5" fill="url(#dv469210)" filter="url(#blur05)"/>
<rect x="470.6" y="218.5" width="31.1" height="3" rx="1.5" fill="#fff0c0" opacity="0.9" filter="url(#blur1)"/>
<ellipse cx="486.15" cy="267" rx="11.58" ry="5" fill="#fffff0" opacity="0.8" filter="url(#blur2)"/>
<linearGradient id="dv509202" x1="0" y1="0" x2="0" y2="1"><stop offset="0" stop-color="#e8607c"/><stop offset="1" stop-color="#e04868"/></linearGradient>
<rect x="507.9" y="202" width="38.4" height="75.4" rx="5" fill="#c03050" opacity="0.35" filter="url(#blur2)"/>
<rect x="510.4" y="273.4" width="33.4" height="9" fill="#801830" opacity="0.75" filter="url(#blur1)"/>
<rect x="509.4" y="202" width="35.4" height="15.5" rx="4" fill="#642434" filter="url(#blur05)"/>
<rect x="509.4" y="215.5" width="35.4" height="59.9" rx="3.5" fill="url(#dv509202)" filter="url(#blur05)"/>
<rect x="510.4" y="215" width="33.4" height="3" rx="1.5" fill="#ff90a8" opacity="0.9" filter="url(#blur1)"/>
<linearGradient id="dv306318" x1="0" y1="0" x2="0" y2="1"><stop offset="0" stop-color="#4a36f2"/><stop offset="1" stop-color="#3c2ae6"/></linearGradient>
<rect x="305.3" y="318.5" width="33.7" height="70.3" rx="5" fill="#3020e0" opacity="0.35" filter="url(#blur2)"/>
<rect x="307.8" y="384.8" width="28.7" height="9" fill="#201890" opacity="0.75" filter="url(#blur1)"/>
<rect x="306.8" y="318.5" width="30.7" height="12" rx="4" fill="#262868" filter="url(#blur05)"/>
<rect x="306.8" y="328.5" width="30.7" height="58.3" rx="3.5" fill="url(#dv306318)" filter="url(#blur05)"/>
<rect x="307.8" y="328" width="28.7" height="3" rx="1.5" fill="#7060ff" opacity="0.9" filter="url(#blur1)"/>
<linearGradient id="dv346315" x1="0" y1="0" x2="0" y2="1"><stop offset="0" stop-color="#44c4f8"/><stop offset="1" stop-color="#36b4f0"/></linearGradient>
<rect x="345.1" y="315" width="34.8" height="75" rx="5" fill="#20a0f0" opacity="0.35" filter="url(#blur2)"/>
<rect x="347.6" y="386" width="29.8" height="9" fill="#1860a0" opacity="0.75" filter="url(#blur1)"/>
<rect x="346.6" y="315" width="31.8" height="12.5" rx="4" fill="#224a68" filter="url(#blur05)"/>
<rect x="346.6" y="325.5" width="31.8" height="62.5" rx="3.5" fill="url(#dv346315)" filter="url(#blur05)"/>
<rect x="347.6" y="325" width="29.8" height="3" rx="1.5" fill="#70e4ff" opacity="0.9" filter="url(#blur1)"/>
<linearGradient id="dv388317" x1="0" y1="0" x2="0" y2="1"><stop offset="0" stop-color="#44f0b8"/><stop offset="1" stop-color="#34e4a4"/></linearGradient>
<rect x="387.1" y="317.5" width="33.7" height="70.2" rx="5" fill="#10d090" opacity="0.35" filter="url(#blur2)"/>
<rect x="389.6" y="383.7" width="28.7" height="9" fill="#107850" opacity="0.75" filter="url(#blur1)"/>
<rect x="388.6" y="317.5" width="30.7" height="9" rx="4" fill="#226850" filter="url(#blur05)"/>
<rect x="388.6" y="324.5" width="30.7" height="61.2" rx="3.5" fill="url(#dv388317)" filter="url(#blur05)"/>
<rect x="389.6" y="324" width="28.7" height="3" rx="1.5" fill="#b0ffd8" opacity="0.9" filter="url(#blur1)"/>
<linearGradient id="dv429318" x1="0" y1="0" x2="0" y2="1"><stop offset="0" stop-color="#3ce43a"/><stop offset="1" stop-color="#32d832"/></linearGradient>
<rect x="428" y="318" width="33.2" height="69.4" rx="5" fill="#20d020" opacity="0.35" filter="url(#blur2)"/>
<rect x="430.5" y="383.4" width="28.2" height="9" fill="#186818" opacity="0.75" filter="url(#blur1)"/>
<rect x="429.5" y="318" width="30.2" height="10.3" rx="4" fill="#3a8a40" filter="url(#blur05)"/>
<rect x="429.5" y="326.3" width="30.2" height="59.1" rx="3.5" fill="url(#dv429318)" filter="url(#blur05)"/>
<rect x="430.5" y="325.8" width="28.2" height="3" rx="1.5" fill="#a0ff90" opacity="0.9" filter="url(#blur1)"/>
<linearGradient id="dv468320" x1="0" y1="0" x2="0" y2="1"><stop offset="0" stop-color="#fcf27a"/><stop offset="1" stop-color="#f6e460"/></linearGradient>
<rect x="467" y="320.4" width="33.7" height="64.6" rx="5" fill="#f0a020" opacity="0.35" filter="url(#blur2)"/>
<rect x="469.5" y="381" width="28.7" height="9" fill="#e07018" opacity="0.75" filter="url(#blur1)"/>
<rect x="468.5" y="320.4" width="30.7" height="11.4" rx="4" fill="#c88040" filter="url(#blur05)"/>
<rect x="468.5" y="329.8" width="30.7" height="53.2" rx="3.5" fill="url(#dv468320)" filter="url(#blur05)"/>
<rect x="469.5" y="329.3" width="28.7" height="3" rx="1.5" fill="#fff4b0" opacity="0.9" filter="url(#blur1)"/>
<ellipse cx="483.85" cy="376" rx="10.74" ry="5" fill="#fff8d0" opacity="0.8" filter="url(#blur2)"/>
<linearGradient id="dv507320" x1="0" y1="0" x2="0" y2="1"><stop offset="0" stop-color="#ff3a58"/><stop offset="1" stop-color="#f82a48"/></linearGradient>
<rect x="506" y="320.4" width="36.1" height="65.8" rx="5" fill="#e01030" opacity="0.35" filter="url(#blur2)"/>
<rect x="508.5" y="382.2" width="31.1" height="9" fill="#901020" opacity="0.75" filter="url(#blur1)"/>
<rect x="507.5" y="320.4" width="33.1" height="10.2" rx="4" fill="#b04050" filter="url(#blur05)"/>
<rect x="507.5" y="328.6" width="33.1" height="55.6" rx="3.5" fill="url(#dv507320)" filter="url(#blur05)"/>
<rect x="508.5" y="328.1" width="31.1" height="3" rx="1.5" fill="#ff8898" opacity="0.9" filter="url(#blur1)"/>
<text x="307.3" y="195" style="font-family:'Liberation Serif',serif;font-weight:bold;font-size:13px" fill="#fff">d)</text>
<text x="338.5" y="200.7" textLength="172.6" lengthAdjust="spacingAndGlyphs" style="font-family:'Liberation Sans',sans-serif;font-weight:bold;font-size:21px" fill="#ff0a0a">Before treatment</text>
<text x="345" y="306" textLength="158" lengthAdjust="spacingAndGlyphs" style="font-family:'Liberation Sans',sans-serif;font-weight:bold;font-size:21px" fill="#ff0a0a">After treatment</text>
</svg></body></html>
